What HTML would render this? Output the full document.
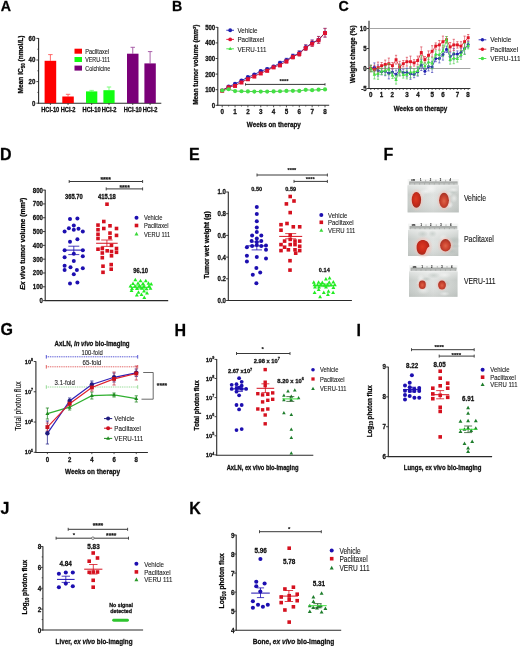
<!DOCTYPE html>
<html><head><meta charset="utf-8"><title>Figure</title>
<style>
html,body{margin:0;padding:0;background:#fff;}
body{width:520px;height:646px;overflow:hidden;}
svg{display:block;}
text{font-family:'Liberation Sans', Arial, Helvetica, sans-serif;font-weight:bold;stroke:#111;stroke-width:0.28px;stroke-linejoin:round;}
</style></head><body>
<svg width="520" height="646" viewBox="0 0 520 646">
<rect width="520" height="646" fill="#fff"/>
<text x="0.7" y="11.3" font-size="14.2">A</text>
<line x1="38.6" y1="38.1" x2="38.6" y2="103.7" stroke="#2a2a2a" stroke-width="1.1"/>
<line x1="36.4" y1="38.4" x2="38.6" y2="38.4" stroke="#2a2a2a" stroke-width="0.9"/>
<line x1="36.4" y1="60" x2="38.6" y2="60" stroke="#2a2a2a" stroke-width="0.9"/>
<line x1="36.4" y1="81.6" x2="38.6" y2="81.6" stroke="#2a2a2a" stroke-width="0.9"/>
<line x1="36.4" y1="103.2" x2="38.6" y2="103.2" stroke="#2a2a2a" stroke-width="0.9"/>
<line x1="37.4" y1="49.2" x2="38.6" y2="49.2" stroke="#2a2a2a" stroke-width="0.8"/>
<line x1="37.4" y1="70.8" x2="38.6" y2="70.8" stroke="#2a2a2a" stroke-width="0.8"/>
<line x1="37.4" y1="92.4" x2="38.6" y2="92.4" stroke="#2a2a2a" stroke-width="0.8"/>
<text x="35.3" y="40.85" font-size="6.83" text-anchor="end" fill="#111" textLength="6.78" lengthAdjust="spacingAndGlyphs">60</text>
<text x="35.3" y="62.45" font-size="6.83" text-anchor="end" fill="#111" textLength="6.78" lengthAdjust="spacingAndGlyphs">40</text>
<text x="35.3" y="84.05" font-size="6.83" text-anchor="end" fill="#111" textLength="6.78" lengthAdjust="spacingAndGlyphs">20</text>
<text x="35.3" y="105.65" font-size="6.83" text-anchor="end" fill="#111" textLength="3.39" lengthAdjust="spacingAndGlyphs">0</text>
<line x1="38.1" y1="103.2" x2="161.3" y2="103.2" stroke="#2a2a2a" stroke-width="1.1"/>
<text transform="translate(23.39 64.5) rotate(-90)" x="0" y="0" font-size="6.96" text-anchor="middle" textLength="58" lengthAdjust="spacingAndGlyphs">Mean IC<tspan font-size="4.7" dy="1.8">50</tspan><tspan dy="-1.8"> (nmol/L)</tspan></text>
<line x1="50.4" y1="54.6" x2="50.4" y2="60.8" stroke="#ff5a5a" stroke-width="0.9"/>
<line x1="48.2" y1="54.6" x2="52.6" y2="54.6" stroke="#ff5a5a" stroke-width="0.9"/>
<rect x="44.6" y="60.8" width="11.6" height="42.4" fill="#fe0000"/>
<line x1="50.4" y1="103.2" x2="50.4" y2="105" stroke="#2a2a2a" stroke-width="0.8"/>
<line x1="68.05" y1="94.3" x2="68.05" y2="96.5" stroke="#ff5a5a" stroke-width="0.9"/>
<line x1="65.85" y1="94.3" x2="70.25" y2="94.3" stroke="#ff5a5a" stroke-width="0.9"/>
<rect x="62.3" y="96.5" width="11.5" height="6.7" fill="#fe0000"/>
<line x1="68.05" y1="103.2" x2="68.05" y2="105" stroke="#2a2a2a" stroke-width="0.8"/>
<line x1="91.65" y1="90.4" x2="91.65" y2="91.4" stroke="#70ff70" stroke-width="0.9"/>
<line x1="89.45" y1="90.4" x2="93.85" y2="90.4" stroke="#70ff70" stroke-width="0.9"/>
<rect x="86" y="91.4" width="11.3" height="11.8" fill="#12fd12"/>
<line x1="91.65" y1="103.2" x2="91.65" y2="105" stroke="#2a2a2a" stroke-width="0.8"/>
<line x1="109" y1="87" x2="109" y2="90.2" stroke="#70ff70" stroke-width="0.9"/>
<line x1="106.8" y1="87" x2="111.2" y2="87" stroke="#70ff70" stroke-width="0.9"/>
<rect x="103.4" y="90.2" width="11.2" height="13" fill="#12fd12"/>
<line x1="109" y1="103.2" x2="109" y2="105" stroke="#2a2a2a" stroke-width="0.8"/>
<line x1="132.75" y1="47.3" x2="132.75" y2="53.7" stroke="#a050a0" stroke-width="0.9"/>
<line x1="130.55" y1="47.3" x2="134.95" y2="47.3" stroke="#a050a0" stroke-width="0.9"/>
<rect x="127" y="53.7" width="11.5" height="49.5" fill="#7a0078"/>
<line x1="132.75" y1="103.2" x2="132.75" y2="105" stroke="#2a2a2a" stroke-width="0.8"/>
<line x1="150.1" y1="51.6" x2="150.1" y2="63.4" stroke="#a050a0" stroke-width="0.9"/>
<line x1="147.9" y1="51.6" x2="152.3" y2="51.6" stroke="#a050a0" stroke-width="0.9"/>
<rect x="144.4" y="63.4" width="11.4" height="39.8" fill="#7a0078"/>
<line x1="150.1" y1="103.2" x2="150.1" y2="105" stroke="#2a2a2a" stroke-width="0.8"/>
<text x="50.2" y="112.29" font-size="6.38" text-anchor="middle" fill="#111" textLength="18.05" lengthAdjust="spacingAndGlyphs">HCI-10</text>
<text x="68.1" y="112.29" font-size="6.38" text-anchor="middle" fill="#111" textLength="14.88" lengthAdjust="spacingAndGlyphs">HCI-2</text>
<text x="91.6" y="112.29" font-size="6.38" text-anchor="middle" fill="#111" textLength="18.05" lengthAdjust="spacingAndGlyphs">HCI-10</text>
<text x="109.1" y="112.29" font-size="6.38" text-anchor="middle" fill="#111" textLength="14.88" lengthAdjust="spacingAndGlyphs">HCI-2</text>
<text x="132.7" y="112.29" font-size="6.38" text-anchor="middle" fill="#111" textLength="18.05" lengthAdjust="spacingAndGlyphs">HCI-10</text>
<text x="150.1" y="112.29" font-size="6.38" text-anchor="middle" fill="#111" textLength="14.88" lengthAdjust="spacingAndGlyphs">HCI-2</text>
<rect x="74.5" y="48.7" width="7.5" height="5" fill="#fe0000"/>
<text x="85.2" y="53.71" font-size="7.01" style="font-weight:normal;stroke-width:0.1px;" fill="#1a1a1a" textLength="24" lengthAdjust="spacingAndGlyphs">Paclitaxel</text>
<rect x="74.5" y="57" width="7.5" height="5" fill="#12fd12"/>
<text x="85.2" y="61.89" font-size="6.67" style="font-weight:normal;stroke-width:0.1px;" fill="#1a1a1a" textLength="24.7" lengthAdjust="spacingAndGlyphs">VERU-111</text>
<rect x="74.5" y="65.6" width="7.5" height="5" fill="#7a0078"/>
<text x="85.2" y="70.54" font-size="6.83" style="font-weight:normal;stroke-width:0.1px;" fill="#1a1a1a" textLength="25.2" lengthAdjust="spacingAndGlyphs">Colchicine</text>
<text x="172" y="11.4" font-size="14.2">B</text>
<line x1="217.8" y1="27" x2="217.8" y2="105.8" stroke="#2a2a2a" stroke-width="1.1"/>
<line x1="215.6" y1="27.3" x2="217.8" y2="27.3" stroke="#2a2a2a" stroke-width="0.9"/>
<line x1="215.6" y1="42.9" x2="217.8" y2="42.9" stroke="#2a2a2a" stroke-width="0.9"/>
<line x1="215.6" y1="58.5" x2="217.8" y2="58.5" stroke="#2a2a2a" stroke-width="0.9"/>
<line x1="215.6" y1="74.1" x2="217.8" y2="74.1" stroke="#2a2a2a" stroke-width="0.9"/>
<line x1="215.6" y1="89.7" x2="217.8" y2="89.7" stroke="#2a2a2a" stroke-width="0.9"/>
<line x1="215.6" y1="105.3" x2="217.8" y2="105.3" stroke="#2a2a2a" stroke-width="0.9"/>
<text x="215.2" y="29.71" font-size="6.72" text-anchor="end" fill="#111" textLength="10.01" lengthAdjust="spacingAndGlyphs">500</text>
<text x="215.2" y="45.31" font-size="6.72" text-anchor="end" fill="#111" textLength="10.01" lengthAdjust="spacingAndGlyphs">400</text>
<text x="215.2" y="60.91" font-size="6.72" text-anchor="end" fill="#111" textLength="10.01" lengthAdjust="spacingAndGlyphs">300</text>
<text x="215.2" y="76.51" font-size="6.72" text-anchor="end" fill="#111" textLength="10.01" lengthAdjust="spacingAndGlyphs">200</text>
<text x="215.2" y="92.11" font-size="6.72" text-anchor="end" fill="#111" textLength="10.01" lengthAdjust="spacingAndGlyphs">100</text>
<text x="215.2" y="107.71" font-size="6.72" text-anchor="end" fill="#111" textLength="3.34" lengthAdjust="spacingAndGlyphs">0</text>
<line x1="217.3" y1="105.3" x2="329.2" y2="105.3" stroke="#2a2a2a" stroke-width="1.1"/>
<line x1="222.2" y1="105.3" x2="222.2" y2="107.3" stroke="#2a2a2a" stroke-width="0.8"/>
<text x="222.2" y="113.93" font-size="7.06" text-anchor="middle" fill="#111" textLength="3.5" lengthAdjust="spacingAndGlyphs">0</text>
<line x1="235.05" y1="105.3" x2="235.05" y2="107.3" stroke="#2a2a2a" stroke-width="0.8"/>
<text x="235.05" y="113.93" font-size="7.06" text-anchor="middle" fill="#111" textLength="3.5" lengthAdjust="spacingAndGlyphs">1</text>
<line x1="247.9" y1="105.3" x2="247.9" y2="107.3" stroke="#2a2a2a" stroke-width="0.8"/>
<text x="247.9" y="113.93" font-size="7.06" text-anchor="middle" fill="#111" textLength="3.5" lengthAdjust="spacingAndGlyphs">2</text>
<line x1="260.75" y1="105.3" x2="260.75" y2="107.3" stroke="#2a2a2a" stroke-width="0.8"/>
<text x="260.75" y="113.93" font-size="7.06" text-anchor="middle" fill="#111" textLength="3.5" lengthAdjust="spacingAndGlyphs">3</text>
<line x1="273.6" y1="105.3" x2="273.6" y2="107.3" stroke="#2a2a2a" stroke-width="0.8"/>
<text x="273.6" y="113.93" font-size="7.06" text-anchor="middle" fill="#111" textLength="3.5" lengthAdjust="spacingAndGlyphs">4</text>
<line x1="286.45" y1="105.3" x2="286.45" y2="107.3" stroke="#2a2a2a" stroke-width="0.8"/>
<text x="286.45" y="113.93" font-size="7.06" text-anchor="middle" fill="#111" textLength="3.5" lengthAdjust="spacingAndGlyphs">5</text>
<line x1="299.3" y1="105.3" x2="299.3" y2="107.3" stroke="#2a2a2a" stroke-width="0.8"/>
<text x="299.3" y="113.93" font-size="7.06" text-anchor="middle" fill="#111" textLength="3.5" lengthAdjust="spacingAndGlyphs">6</text>
<line x1="312.15" y1="105.3" x2="312.15" y2="107.3" stroke="#2a2a2a" stroke-width="0.8"/>
<text x="312.15" y="113.93" font-size="7.06" text-anchor="middle" fill="#111" textLength="3.5" lengthAdjust="spacingAndGlyphs">7</text>
<line x1="325" y1="105.3" x2="325" y2="107.3" stroke="#2a2a2a" stroke-width="0.8"/>
<text x="325" y="113.93" font-size="7.06" text-anchor="middle" fill="#111" textLength="3.5" lengthAdjust="spacingAndGlyphs">8</text>
<line x1="228.62" y1="105.3" x2="228.62" y2="106.5" stroke="#2a2a2a" stroke-width="0.7"/>
<line x1="241.47" y1="105.3" x2="241.47" y2="106.5" stroke="#2a2a2a" stroke-width="0.7"/>
<line x1="254.32" y1="105.3" x2="254.32" y2="106.5" stroke="#2a2a2a" stroke-width="0.7"/>
<line x1="267.18" y1="105.3" x2="267.18" y2="106.5" stroke="#2a2a2a" stroke-width="0.7"/>
<line x1="280.02" y1="105.3" x2="280.02" y2="106.5" stroke="#2a2a2a" stroke-width="0.7"/>
<line x1="292.88" y1="105.3" x2="292.88" y2="106.5" stroke="#2a2a2a" stroke-width="0.7"/>
<line x1="305.72" y1="105.3" x2="305.72" y2="106.5" stroke="#2a2a2a" stroke-width="0.7"/>
<line x1="318.57" y1="105.3" x2="318.57" y2="106.5" stroke="#2a2a2a" stroke-width="0.7"/>
<text x="273.8" y="127.39" font-size="6.96" text-anchor="middle" fill="#111" textLength="54" lengthAdjust="spacingAndGlyphs">Weeks on therapy</text>
<text transform="translate(198.08 64.75) rotate(-90)" x="0" y="0" font-size="6.92" text-anchor="middle" textLength="80.1" lengthAdjust="spacingAndGlyphs">Mean tumor volume (<tspan font-style="italic">mm<tspan font-size="4.2" dy="-2">3</tspan></tspan><tspan dy="2">)</tspan></text>
<polyline points="222.2,90.48 228.62,86.58 235.05,83.93 241.47,80.65 247.9,77.22 254.32,74.57 260.75,71.14 267.18,69.11 273.6,66.61 280.02,62.87 286.45,60.06 292.88,56.16 299.3,53.04 305.72,47.42 312.15,42.9 318.57,39.78 325,32.76" fill="none" stroke="#2222aa" stroke-width="0.9"/>
<polyline points="222.2,90.48 228.62,87.05 235.05,85.64 241.47,82.21 247.9,78.94 254.32,76.28 260.75,73.16 267.18,70.51 273.6,67.08 280.02,65.05 286.45,61.15 292.88,56.78 299.3,53.66 305.72,47.74 312.15,43.37 318.57,39.94 325,32.76" fill="none" stroke="#b01030" stroke-width="0.9"/>
<polyline points="222.2,90.48 228.62,89.23 235.05,91.1 241.47,91.26 247.9,91.42 254.32,91.57 260.75,91.57 267.18,91.57 273.6,91.42 280.02,91.26 286.45,90.95 292.88,90.79 299.3,90.95 305.72,89.86 312.15,90.17 318.57,89.7 325,89.39" fill="none" stroke="#40c040" stroke-width="0.9"/>
<line x1="228.62" y1="85.96" x2="228.62" y2="87.2" stroke="#7070d0" stroke-width="0.7"/>
<line x1="227.03" y1="85.96" x2="230.22" y2="85.96" stroke="#7070d0" stroke-width="0.7"/>
<line x1="227.03" y1="87.2" x2="230.22" y2="87.2" stroke="#7070d0" stroke-width="0.7"/>
<line x1="228.62" y1="86.42" x2="228.62" y2="87.67" stroke="#c02040" stroke-width="0.7"/>
<line x1="227.03" y1="86.42" x2="230.22" y2="86.42" stroke="#c02040" stroke-width="0.7"/>
<line x1="227.03" y1="87.67" x2="230.22" y2="87.67" stroke="#c02040" stroke-width="0.7"/>
<line x1="235.05" y1="83.15" x2="235.05" y2="84.71" stroke="#7070d0" stroke-width="0.7"/>
<line x1="233.45" y1="83.15" x2="236.65" y2="83.15" stroke="#7070d0" stroke-width="0.7"/>
<line x1="233.45" y1="84.71" x2="236.65" y2="84.71" stroke="#7070d0" stroke-width="0.7"/>
<line x1="235.05" y1="84.86" x2="235.05" y2="86.42" stroke="#c02040" stroke-width="0.7"/>
<line x1="233.45" y1="84.86" x2="236.65" y2="84.86" stroke="#c02040" stroke-width="0.7"/>
<line x1="233.45" y1="86.42" x2="236.65" y2="86.42" stroke="#c02040" stroke-width="0.7"/>
<line x1="241.47" y1="79.87" x2="241.47" y2="81.43" stroke="#7070d0" stroke-width="0.7"/>
<line x1="239.88" y1="79.87" x2="243.07" y2="79.87" stroke="#7070d0" stroke-width="0.7"/>
<line x1="239.88" y1="81.43" x2="243.07" y2="81.43" stroke="#7070d0" stroke-width="0.7"/>
<line x1="241.47" y1="81.43" x2="241.47" y2="82.99" stroke="#c02040" stroke-width="0.7"/>
<line x1="239.88" y1="81.43" x2="243.07" y2="81.43" stroke="#c02040" stroke-width="0.7"/>
<line x1="239.88" y1="82.99" x2="243.07" y2="82.99" stroke="#c02040" stroke-width="0.7"/>
<line x1="247.9" y1="76.28" x2="247.9" y2="78.16" stroke="#7070d0" stroke-width="0.7"/>
<line x1="246.3" y1="76.28" x2="249.5" y2="76.28" stroke="#7070d0" stroke-width="0.7"/>
<line x1="246.3" y1="78.16" x2="249.5" y2="78.16" stroke="#7070d0" stroke-width="0.7"/>
<line x1="247.9" y1="78" x2="247.9" y2="79.87" stroke="#c02040" stroke-width="0.7"/>
<line x1="246.3" y1="78" x2="249.5" y2="78" stroke="#c02040" stroke-width="0.7"/>
<line x1="246.3" y1="79.87" x2="249.5" y2="79.87" stroke="#c02040" stroke-width="0.7"/>
<line x1="254.32" y1="73.63" x2="254.32" y2="75.5" stroke="#7070d0" stroke-width="0.7"/>
<line x1="252.72" y1="73.63" x2="255.92" y2="73.63" stroke="#7070d0" stroke-width="0.7"/>
<line x1="252.72" y1="75.5" x2="255.92" y2="75.5" stroke="#7070d0" stroke-width="0.7"/>
<line x1="254.32" y1="75.35" x2="254.32" y2="77.22" stroke="#c02040" stroke-width="0.7"/>
<line x1="252.72" y1="75.35" x2="255.92" y2="75.35" stroke="#c02040" stroke-width="0.7"/>
<line x1="252.72" y1="77.22" x2="255.92" y2="77.22" stroke="#c02040" stroke-width="0.7"/>
<line x1="260.75" y1="70.04" x2="260.75" y2="72.23" stroke="#7070d0" stroke-width="0.7"/>
<line x1="259.15" y1="70.04" x2="262.35" y2="70.04" stroke="#7070d0" stroke-width="0.7"/>
<line x1="259.15" y1="72.23" x2="262.35" y2="72.23" stroke="#7070d0" stroke-width="0.7"/>
<line x1="260.75" y1="72.07" x2="260.75" y2="74.26" stroke="#c02040" stroke-width="0.7"/>
<line x1="259.15" y1="72.07" x2="262.35" y2="72.07" stroke="#c02040" stroke-width="0.7"/>
<line x1="259.15" y1="74.26" x2="262.35" y2="74.26" stroke="#c02040" stroke-width="0.7"/>
<line x1="267.18" y1="67.86" x2="267.18" y2="70.36" stroke="#7070d0" stroke-width="0.7"/>
<line x1="265.57" y1="67.86" x2="268.78" y2="67.86" stroke="#7070d0" stroke-width="0.7"/>
<line x1="265.57" y1="70.36" x2="268.78" y2="70.36" stroke="#7070d0" stroke-width="0.7"/>
<line x1="267.18" y1="69.26" x2="267.18" y2="71.76" stroke="#c02040" stroke-width="0.7"/>
<line x1="265.57" y1="69.26" x2="268.78" y2="69.26" stroke="#c02040" stroke-width="0.7"/>
<line x1="265.57" y1="71.76" x2="268.78" y2="71.76" stroke="#c02040" stroke-width="0.7"/>
<line x1="273.6" y1="65.21" x2="273.6" y2="68.02" stroke="#7070d0" stroke-width="0.7"/>
<line x1="272" y1="65.21" x2="275.2" y2="65.21" stroke="#7070d0" stroke-width="0.7"/>
<line x1="272" y1="68.02" x2="275.2" y2="68.02" stroke="#7070d0" stroke-width="0.7"/>
<line x1="273.6" y1="65.68" x2="273.6" y2="68.48" stroke="#c02040" stroke-width="0.7"/>
<line x1="272" y1="65.68" x2="275.2" y2="65.68" stroke="#c02040" stroke-width="0.7"/>
<line x1="272" y1="68.48" x2="275.2" y2="68.48" stroke="#c02040" stroke-width="0.7"/>
<line x1="280.02" y1="61.31" x2="280.02" y2="64.43" stroke="#7070d0" stroke-width="0.7"/>
<line x1="278.42" y1="61.31" x2="281.62" y2="61.31" stroke="#7070d0" stroke-width="0.7"/>
<line x1="278.42" y1="64.43" x2="281.62" y2="64.43" stroke="#7070d0" stroke-width="0.7"/>
<line x1="280.02" y1="63.49" x2="280.02" y2="66.61" stroke="#c02040" stroke-width="0.7"/>
<line x1="278.42" y1="63.49" x2="281.62" y2="63.49" stroke="#c02040" stroke-width="0.7"/>
<line x1="278.42" y1="66.61" x2="281.62" y2="66.61" stroke="#c02040" stroke-width="0.7"/>
<line x1="286.45" y1="58.19" x2="286.45" y2="61.93" stroke="#7070d0" stroke-width="0.7"/>
<line x1="284.85" y1="58.19" x2="288.05" y2="58.19" stroke="#7070d0" stroke-width="0.7"/>
<line x1="284.85" y1="61.93" x2="288.05" y2="61.93" stroke="#7070d0" stroke-width="0.7"/>
<line x1="286.45" y1="59.28" x2="286.45" y2="63.02" stroke="#c02040" stroke-width="0.7"/>
<line x1="284.85" y1="59.28" x2="288.05" y2="59.28" stroke="#c02040" stroke-width="0.7"/>
<line x1="284.85" y1="63.02" x2="288.05" y2="63.02" stroke="#c02040" stroke-width="0.7"/>
<line x1="292.88" y1="53.98" x2="292.88" y2="58.34" stroke="#7070d0" stroke-width="0.7"/>
<line x1="291.27" y1="53.98" x2="294.48" y2="53.98" stroke="#7070d0" stroke-width="0.7"/>
<line x1="291.27" y1="58.34" x2="294.48" y2="58.34" stroke="#7070d0" stroke-width="0.7"/>
<line x1="292.88" y1="54.6" x2="292.88" y2="58.97" stroke="#c02040" stroke-width="0.7"/>
<line x1="291.27" y1="54.6" x2="294.48" y2="54.6" stroke="#c02040" stroke-width="0.7"/>
<line x1="291.27" y1="58.97" x2="294.48" y2="58.97" stroke="#c02040" stroke-width="0.7"/>
<line x1="299.3" y1="50.54" x2="299.3" y2="55.54" stroke="#7070d0" stroke-width="0.7"/>
<line x1="297.7" y1="50.54" x2="300.9" y2="50.54" stroke="#7070d0" stroke-width="0.7"/>
<line x1="297.7" y1="55.54" x2="300.9" y2="55.54" stroke="#7070d0" stroke-width="0.7"/>
<line x1="299.3" y1="51.17" x2="299.3" y2="56.16" stroke="#c02040" stroke-width="0.7"/>
<line x1="297.7" y1="51.17" x2="300.9" y2="51.17" stroke="#c02040" stroke-width="0.7"/>
<line x1="297.7" y1="56.16" x2="300.9" y2="56.16" stroke="#c02040" stroke-width="0.7"/>
<line x1="305.72" y1="44.62" x2="305.72" y2="50.23" stroke="#7070d0" stroke-width="0.7"/>
<line x1="304.12" y1="44.62" x2="307.32" y2="44.62" stroke="#7070d0" stroke-width="0.7"/>
<line x1="304.12" y1="50.23" x2="307.32" y2="50.23" stroke="#7070d0" stroke-width="0.7"/>
<line x1="305.72" y1="44.93" x2="305.72" y2="50.54" stroke="#c02040" stroke-width="0.7"/>
<line x1="304.12" y1="44.93" x2="307.32" y2="44.93" stroke="#c02040" stroke-width="0.7"/>
<line x1="304.12" y1="50.54" x2="307.32" y2="50.54" stroke="#c02040" stroke-width="0.7"/>
<line x1="312.15" y1="39.78" x2="312.15" y2="46.02" stroke="#7070d0" stroke-width="0.7"/>
<line x1="310.55" y1="39.78" x2="313.75" y2="39.78" stroke="#7070d0" stroke-width="0.7"/>
<line x1="310.55" y1="46.02" x2="313.75" y2="46.02" stroke="#7070d0" stroke-width="0.7"/>
<line x1="312.15" y1="40.25" x2="312.15" y2="46.49" stroke="#c02040" stroke-width="0.7"/>
<line x1="310.55" y1="40.25" x2="313.75" y2="40.25" stroke="#c02040" stroke-width="0.7"/>
<line x1="310.55" y1="46.49" x2="313.75" y2="46.49" stroke="#c02040" stroke-width="0.7"/>
<line x1="318.57" y1="36.35" x2="318.57" y2="43.21" stroke="#7070d0" stroke-width="0.7"/>
<line x1="316.97" y1="36.35" x2="320.18" y2="36.35" stroke="#7070d0" stroke-width="0.7"/>
<line x1="316.97" y1="43.21" x2="320.18" y2="43.21" stroke="#7070d0" stroke-width="0.7"/>
<line x1="318.57" y1="36.5" x2="318.57" y2="43.37" stroke="#c02040" stroke-width="0.7"/>
<line x1="316.97" y1="36.5" x2="320.18" y2="36.5" stroke="#c02040" stroke-width="0.7"/>
<line x1="316.97" y1="43.37" x2="320.18" y2="43.37" stroke="#c02040" stroke-width="0.7"/>
<line x1="325" y1="28.39" x2="325" y2="37.13" stroke="#7070d0" stroke-width="0.7"/>
<line x1="323.4" y1="28.39" x2="326.6" y2="28.39" stroke="#7070d0" stroke-width="0.7"/>
<line x1="323.4" y1="37.13" x2="326.6" y2="37.13" stroke="#7070d0" stroke-width="0.7"/>
<line x1="325" y1="28.39" x2="325" y2="37.13" stroke="#c02040" stroke-width="0.7"/>
<line x1="323.4" y1="28.39" x2="326.6" y2="28.39" stroke="#c02040" stroke-width="0.7"/>
<line x1="323.4" y1="37.13" x2="326.6" y2="37.13" stroke="#c02040" stroke-width="0.7"/>
<circle cx="222.2" cy="90.48" r="2.1" fill="#2020b0"/>
<circle cx="228.62" cy="86.58" r="2.1" fill="#2020b0"/>
<circle cx="235.05" cy="83.93" r="2.1" fill="#2020b0"/>
<circle cx="241.47" cy="80.65" r="2.1" fill="#2020b0"/>
<circle cx="247.9" cy="77.22" r="2.1" fill="#2020b0"/>
<circle cx="254.32" cy="74.57" r="2.1" fill="#2020b0"/>
<circle cx="260.75" cy="71.14" r="2.1" fill="#2020b0"/>
<circle cx="267.18" cy="69.11" r="2.1" fill="#2020b0"/>
<circle cx="273.6" cy="66.61" r="2.1" fill="#2020b0"/>
<circle cx="280.02" cy="62.87" r="2.1" fill="#2020b0"/>
<circle cx="286.45" cy="60.06" r="2.1" fill="#2020b0"/>
<circle cx="292.88" cy="56.16" r="2.1" fill="#2020b0"/>
<circle cx="299.3" cy="53.04" r="2.1" fill="#2020b0"/>
<circle cx="305.72" cy="47.42" r="2.1" fill="#2020b0"/>
<circle cx="312.15" cy="42.9" r="2.1" fill="#2020b0"/>
<circle cx="318.57" cy="39.78" r="2.1" fill="#2020b0"/>
<circle cx="325" cy="32.76" r="2.1" fill="#2020b0"/>
<rect x="220.2" y="88.78" width="4" height="4" fill="#e01030"/>
<rect x="226.62" y="85.35" width="4" height="4" fill="#e01030"/>
<rect x="233.05" y="83.94" width="4" height="4" fill="#e01030"/>
<rect x="239.47" y="80.51" width="4" height="4" fill="#e01030"/>
<rect x="245.9" y="77.24" width="4" height="4" fill="#e01030"/>
<rect x="252.32" y="74.58" width="4" height="4" fill="#e01030"/>
<rect x="258.75" y="71.46" width="4" height="4" fill="#e01030"/>
<rect x="265.18" y="68.81" width="4" height="4" fill="#e01030"/>
<rect x="271.6" y="65.38" width="4" height="4" fill="#e01030"/>
<rect x="278.02" y="63.35" width="4" height="4" fill="#e01030"/>
<rect x="284.45" y="59.45" width="4" height="4" fill="#e01030"/>
<rect x="290.88" y="55.08" width="4" height="4" fill="#e01030"/>
<rect x="297.3" y="51.96" width="4" height="4" fill="#e01030"/>
<rect x="303.72" y="46.04" width="4" height="4" fill="#e01030"/>
<rect x="310.15" y="41.67" width="4" height="4" fill="#e01030"/>
<rect x="316.57" y="38.24" width="4" height="4" fill="#e01030"/>
<rect x="323" y="31.06" width="4" height="4" fill="#e01030"/>
<circle cx="222.2" cy="90.48" r="2.1" fill="#44e044"/>
<circle cx="228.62" cy="89.23" r="2.1" fill="#44e044"/>
<circle cx="235.05" cy="91.1" r="2.1" fill="#44e044"/>
<circle cx="241.47" cy="91.26" r="2.1" fill="#44e044"/>
<circle cx="247.9" cy="91.42" r="2.1" fill="#44e044"/>
<circle cx="254.32" cy="91.57" r="2.1" fill="#44e044"/>
<circle cx="260.75" cy="91.57" r="2.1" fill="#44e044"/>
<circle cx="267.18" cy="91.57" r="2.1" fill="#44e044"/>
<circle cx="273.6" cy="91.42" r="2.1" fill="#44e044"/>
<circle cx="280.02" cy="91.26" r="2.1" fill="#44e044"/>
<circle cx="286.45" cy="90.95" r="2.1" fill="#44e044"/>
<circle cx="292.88" cy="90.79" r="2.1" fill="#44e044"/>
<circle cx="299.3" cy="90.95" r="2.1" fill="#44e044"/>
<circle cx="305.72" cy="89.86" r="2.1" fill="#44e044"/>
<circle cx="312.15" cy="90.17" r="2.1" fill="#44e044"/>
<circle cx="318.57" cy="89.7" r="2.1" fill="#44e044"/>
<circle cx="325" cy="89.39" r="2.1" fill="#44e044"/>
<line x1="245.5" y1="84.4" x2="325" y2="84.4" stroke="#383838" stroke-width="1"/>
<line x1="245.5" y1="83.2" x2="245.5" y2="85.6" stroke="#383838" stroke-width="0.9"/>
<line x1="325" y1="83.2" x2="325" y2="85.6" stroke="#383838" stroke-width="0.9"/>
<text x="284" y="83.12" font-size="5.85" text-anchor="middle" fill="#111" style="stroke-width:0.18px">****</text>
<line x1="226.3" y1="30.25" x2="234" y2="30.25" stroke="#2020b0" stroke-width="0.9"/>
<circle cx="230.2" cy="30.25" r="1.9" fill="#2020b0"/>
<text x="237.4" y="33.05" font-size="7.83" style="font-weight:normal;stroke-width:0.1px;" fill="#1a1a1a" textLength="20.2" lengthAdjust="spacingAndGlyphs">Vehicle</text>
<line x1="226.3" y1="39.4" x2="234" y2="39.4" stroke="#e01030" stroke-width="0.9"/>
<circle cx="230.2" cy="39.4" r="1.9" fill="#e01030"/>
<text x="237.4" y="42.21" font-size="7.86" style="font-weight:normal;stroke-width:0.1px;" fill="#1a1a1a" textLength="26.9" lengthAdjust="spacingAndGlyphs">Paclitaxel</text>
<line x1="226.3" y1="48.8" x2="234" y2="48.8" stroke="#44e044" stroke-width="0.9"/>
<path d="M230.2 46.86L232 50.1L228.4 50.1Z" fill="#44e044"/>
<text x="237.4" y="51.6" font-size="7.83" style="font-weight:normal;stroke-width:0.1px;" fill="#1a1a1a" textLength="29" lengthAdjust="spacingAndGlyphs">VERU-111</text>
<text x="338.6" y="11.3" font-size="14.2">C</text>
<line x1="369" y1="20.7" x2="369" y2="89" stroke="#2a2a2a" stroke-width="1.1"/>
<line x1="366.8" y1="28.5" x2="369" y2="28.5" stroke="#2a2a2a" stroke-width="0.9"/>
<line x1="366.8" y1="48.5" x2="369" y2="48.5" stroke="#2a2a2a" stroke-width="0.9"/>
<line x1="366.8" y1="68.5" x2="369" y2="68.5" stroke="#2a2a2a" stroke-width="0.9"/>
<line x1="366.8" y1="88.5" x2="369" y2="88.5" stroke="#2a2a2a" stroke-width="0.9"/>
<text x="366.6" y="30.95" font-size="6.83" text-anchor="end" fill="#111" textLength="6.78" lengthAdjust="spacingAndGlyphs">10</text>
<text x="366.6" y="50.95" font-size="6.83" text-anchor="end" fill="#111" textLength="3.39" lengthAdjust="spacingAndGlyphs">5</text>
<text x="366.6" y="70.95" font-size="6.83" text-anchor="end" fill="#111" textLength="3.39" lengthAdjust="spacingAndGlyphs">0</text>
<text x="366.6" y="90.95" font-size="6.83" text-anchor="end" fill="#111" textLength="5.42" lengthAdjust="spacingAndGlyphs">-5</text>
<line x1="369" y1="28.5" x2="470.4" y2="28.5" stroke="#9a9a9a" stroke-width="0.9"/>
<line x1="369" y1="68.5" x2="470.4" y2="68.5" stroke="#9a9a9a" stroke-width="0.9"/>
<line x1="368.5" y1="88.5" x2="470.4" y2="88.5" stroke="#2a2a2a" stroke-width="1.1"/>
<line x1="370.8" y1="88.5" x2="370.8" y2="90" stroke="#2a2a2a" stroke-width="0.7"/>
<line x1="374.41" y1="88.5" x2="374.41" y2="90" stroke="#2a2a2a" stroke-width="0.7"/>
<line x1="378.01" y1="88.5" x2="378.01" y2="90" stroke="#2a2a2a" stroke-width="0.7"/>
<line x1="381.62" y1="88.5" x2="381.62" y2="90" stroke="#2a2a2a" stroke-width="0.7"/>
<line x1="385.23" y1="88.5" x2="385.23" y2="90" stroke="#2a2a2a" stroke-width="0.7"/>
<line x1="388.84" y1="88.5" x2="388.84" y2="90" stroke="#2a2a2a" stroke-width="0.7"/>
<line x1="392.44" y1="88.5" x2="392.44" y2="90" stroke="#2a2a2a" stroke-width="0.7"/>
<line x1="396.05" y1="88.5" x2="396.05" y2="90" stroke="#2a2a2a" stroke-width="0.7"/>
<line x1="399.66" y1="88.5" x2="399.66" y2="90" stroke="#2a2a2a" stroke-width="0.7"/>
<line x1="403.27" y1="88.5" x2="403.27" y2="90" stroke="#2a2a2a" stroke-width="0.7"/>
<line x1="406.87" y1="88.5" x2="406.87" y2="90" stroke="#2a2a2a" stroke-width="0.7"/>
<line x1="410.48" y1="88.5" x2="410.48" y2="90" stroke="#2a2a2a" stroke-width="0.7"/>
<line x1="414.09" y1="88.5" x2="414.09" y2="90" stroke="#2a2a2a" stroke-width="0.7"/>
<line x1="417.7" y1="88.5" x2="417.7" y2="90" stroke="#2a2a2a" stroke-width="0.7"/>
<line x1="421.3" y1="88.5" x2="421.3" y2="90" stroke="#2a2a2a" stroke-width="0.7"/>
<line x1="424.91" y1="88.5" x2="424.91" y2="90" stroke="#2a2a2a" stroke-width="0.7"/>
<line x1="428.52" y1="88.5" x2="428.52" y2="90" stroke="#2a2a2a" stroke-width="0.7"/>
<line x1="432.13" y1="88.5" x2="432.13" y2="90" stroke="#2a2a2a" stroke-width="0.7"/>
<line x1="435.73" y1="88.5" x2="435.73" y2="90" stroke="#2a2a2a" stroke-width="0.7"/>
<line x1="439.34" y1="88.5" x2="439.34" y2="90" stroke="#2a2a2a" stroke-width="0.7"/>
<line x1="442.95" y1="88.5" x2="442.95" y2="90" stroke="#2a2a2a" stroke-width="0.7"/>
<line x1="446.56" y1="88.5" x2="446.56" y2="90" stroke="#2a2a2a" stroke-width="0.7"/>
<line x1="450.16" y1="88.5" x2="450.16" y2="90" stroke="#2a2a2a" stroke-width="0.7"/>
<line x1="453.77" y1="88.5" x2="453.77" y2="90" stroke="#2a2a2a" stroke-width="0.7"/>
<line x1="457.38" y1="88.5" x2="457.38" y2="90" stroke="#2a2a2a" stroke-width="0.7"/>
<line x1="460.99" y1="88.5" x2="460.99" y2="90" stroke="#2a2a2a" stroke-width="0.7"/>
<line x1="464.59" y1="88.5" x2="464.59" y2="90" stroke="#2a2a2a" stroke-width="0.7"/>
<line x1="468.2" y1="88.5" x2="468.2" y2="90" stroke="#2a2a2a" stroke-width="0.7"/>
<text x="370.8" y="97.29" font-size="6.94" text-anchor="middle" fill="#111" textLength="3.45" lengthAdjust="spacingAndGlyphs">0</text>
<text x="381.5" y="97.29" font-size="6.94" text-anchor="middle" fill="#111" textLength="3.45" lengthAdjust="spacingAndGlyphs">1</text>
<text x="392.2" y="97.29" font-size="6.94" text-anchor="middle" fill="#111" textLength="3.45" lengthAdjust="spacingAndGlyphs">2</text>
<text x="407" y="97.29" font-size="6.94" text-anchor="middle" fill="#111" textLength="3.45" lengthAdjust="spacingAndGlyphs">3</text>
<text x="417.9" y="97.29" font-size="6.94" text-anchor="middle" fill="#111" textLength="3.45" lengthAdjust="spacingAndGlyphs">4</text>
<text x="432.2" y="97.29" font-size="6.94" text-anchor="middle" fill="#111" textLength="3.45" lengthAdjust="spacingAndGlyphs">5</text>
<text x="443" y="97.29" font-size="6.94" text-anchor="middle" fill="#111" textLength="3.45" lengthAdjust="spacingAndGlyphs">6</text>
<text x="457.5" y="97.29" font-size="6.94" text-anchor="middle" fill="#111" textLength="3.45" lengthAdjust="spacingAndGlyphs">7</text>
<text x="468" y="97.29" font-size="6.94" text-anchor="middle" fill="#111" textLength="3.45" lengthAdjust="spacingAndGlyphs">8</text>
<text x="420.5" y="110.98" font-size="6.92" text-anchor="middle" fill="#111" textLength="53.7" lengthAdjust="spacingAndGlyphs">Weeks on therapy</text>
<text transform="translate(354.85 54.3) rotate(-90)" x="0" y="0" font-size="7.11" text-anchor="middle" textLength="57.7" lengthAdjust="spacingAndGlyphs">Weight change (%)</text>
<polyline points="370.8,68.5 374.41,67.3 378.01,70.5 381.62,71.7 385.23,71.3 388.84,73.3 392.44,72.1 396.05,74.5 399.66,69.7 403.27,72.5 406.87,72.5 410.48,73.7 414.09,74.5 417.7,71.7 421.3,64.9 424.91,71.3 428.52,66.5 432.13,66.9 435.73,58.5 439.34,58.5 442.95,54.5 446.56,49.3 450.16,56.5 453.77,54.1 457.38,54.1 460.99,52.5 464.59,48.5 468.2,44.5" fill="none" stroke="#2020b0" stroke-width="0.8"/>
<line x1="370.8" y1="65.3" x2="370.8" y2="71.7" stroke="#4848b8" stroke-width="0.6"/>
<line x1="369.7" y1="65.3" x2="371.9" y2="65.3" stroke="#4848b8" stroke-width="0.7"/>
<line x1="369.7" y1="71.7" x2="371.9" y2="71.7" stroke="#4848b8" stroke-width="0.7"/>
<line x1="374.41" y1="62.9" x2="374.41" y2="71.7" stroke="#4848b8" stroke-width="0.6"/>
<line x1="373.31" y1="62.9" x2="375.51" y2="62.9" stroke="#4848b8" stroke-width="0.7"/>
<line x1="373.31" y1="71.7" x2="375.51" y2="71.7" stroke="#4848b8" stroke-width="0.7"/>
<line x1="378.01" y1="64.9" x2="378.01" y2="76.1" stroke="#4848b8" stroke-width="0.6"/>
<line x1="376.91" y1="64.9" x2="379.11" y2="64.9" stroke="#4848b8" stroke-width="0.7"/>
<line x1="376.91" y1="76.1" x2="379.11" y2="76.1" stroke="#4848b8" stroke-width="0.7"/>
<line x1="381.62" y1="68.5" x2="381.62" y2="74.9" stroke="#4848b8" stroke-width="0.6"/>
<line x1="380.52" y1="68.5" x2="382.72" y2="68.5" stroke="#4848b8" stroke-width="0.7"/>
<line x1="380.52" y1="74.9" x2="382.72" y2="74.9" stroke="#4848b8" stroke-width="0.7"/>
<line x1="385.23" y1="66.9" x2="385.23" y2="75.7" stroke="#4848b8" stroke-width="0.6"/>
<line x1="384.13" y1="66.9" x2="386.33" y2="66.9" stroke="#4848b8" stroke-width="0.7"/>
<line x1="384.13" y1="75.7" x2="386.33" y2="75.7" stroke="#4848b8" stroke-width="0.7"/>
<line x1="388.84" y1="67.7" x2="388.84" y2="78.9" stroke="#4848b8" stroke-width="0.6"/>
<line x1="387.74" y1="67.7" x2="389.94" y2="67.7" stroke="#4848b8" stroke-width="0.7"/>
<line x1="387.74" y1="78.9" x2="389.94" y2="78.9" stroke="#4848b8" stroke-width="0.7"/>
<line x1="392.44" y1="68.9" x2="392.44" y2="75.3" stroke="#4848b8" stroke-width="0.6"/>
<line x1="391.34" y1="68.9" x2="393.54" y2="68.9" stroke="#4848b8" stroke-width="0.7"/>
<line x1="391.34" y1="75.3" x2="393.54" y2="75.3" stroke="#4848b8" stroke-width="0.7"/>
<line x1="396.05" y1="70.1" x2="396.05" y2="78.9" stroke="#4848b8" stroke-width="0.6"/>
<line x1="394.95" y1="70.1" x2="397.15" y2="70.1" stroke="#4848b8" stroke-width="0.7"/>
<line x1="394.95" y1="78.9" x2="397.15" y2="78.9" stroke="#4848b8" stroke-width="0.7"/>
<line x1="399.66" y1="64.1" x2="399.66" y2="75.3" stroke="#4848b8" stroke-width="0.6"/>
<line x1="398.56" y1="64.1" x2="400.76" y2="64.1" stroke="#4848b8" stroke-width="0.7"/>
<line x1="398.56" y1="75.3" x2="400.76" y2="75.3" stroke="#4848b8" stroke-width="0.7"/>
<line x1="403.27" y1="69.3" x2="403.27" y2="75.7" stroke="#4848b8" stroke-width="0.6"/>
<line x1="402.17" y1="69.3" x2="404.37" y2="69.3" stroke="#4848b8" stroke-width="0.7"/>
<line x1="402.17" y1="75.7" x2="404.37" y2="75.7" stroke="#4848b8" stroke-width="0.7"/>
<line x1="406.87" y1="68.1" x2="406.87" y2="76.9" stroke="#4848b8" stroke-width="0.6"/>
<line x1="405.77" y1="68.1" x2="407.97" y2="68.1" stroke="#4848b8" stroke-width="0.7"/>
<line x1="405.77" y1="76.9" x2="407.97" y2="76.9" stroke="#4848b8" stroke-width="0.7"/>
<line x1="410.48" y1="68.1" x2="410.48" y2="79.3" stroke="#4848b8" stroke-width="0.6"/>
<line x1="409.38" y1="68.1" x2="411.58" y2="68.1" stroke="#4848b8" stroke-width="0.7"/>
<line x1="409.38" y1="79.3" x2="411.58" y2="79.3" stroke="#4848b8" stroke-width="0.7"/>
<line x1="414.09" y1="71.3" x2="414.09" y2="77.7" stroke="#4848b8" stroke-width="0.6"/>
<line x1="412.99" y1="71.3" x2="415.19" y2="71.3" stroke="#4848b8" stroke-width="0.7"/>
<line x1="412.99" y1="77.7" x2="415.19" y2="77.7" stroke="#4848b8" stroke-width="0.7"/>
<line x1="417.7" y1="67.3" x2="417.7" y2="76.1" stroke="#4848b8" stroke-width="0.6"/>
<line x1="416.6" y1="67.3" x2="418.8" y2="67.3" stroke="#4848b8" stroke-width="0.7"/>
<line x1="416.6" y1="76.1" x2="418.8" y2="76.1" stroke="#4848b8" stroke-width="0.7"/>
<line x1="421.3" y1="59.3" x2="421.3" y2="70.5" stroke="#4848b8" stroke-width="0.6"/>
<line x1="420.2" y1="59.3" x2="422.4" y2="59.3" stroke="#4848b8" stroke-width="0.7"/>
<line x1="420.2" y1="70.5" x2="422.4" y2="70.5" stroke="#4848b8" stroke-width="0.7"/>
<line x1="424.91" y1="68.1" x2="424.91" y2="74.5" stroke="#4848b8" stroke-width="0.6"/>
<line x1="423.81" y1="68.1" x2="426.01" y2="68.1" stroke="#4848b8" stroke-width="0.7"/>
<line x1="423.81" y1="74.5" x2="426.01" y2="74.5" stroke="#4848b8" stroke-width="0.7"/>
<line x1="428.52" y1="62.1" x2="428.52" y2="70.9" stroke="#4848b8" stroke-width="0.6"/>
<line x1="427.42" y1="62.1" x2="429.62" y2="62.1" stroke="#4848b8" stroke-width="0.7"/>
<line x1="427.42" y1="70.9" x2="429.62" y2="70.9" stroke="#4848b8" stroke-width="0.7"/>
<line x1="432.13" y1="61.3" x2="432.13" y2="72.5" stroke="#4848b8" stroke-width="0.6"/>
<line x1="431.03" y1="61.3" x2="433.23" y2="61.3" stroke="#4848b8" stroke-width="0.7"/>
<line x1="431.03" y1="72.5" x2="433.23" y2="72.5" stroke="#4848b8" stroke-width="0.7"/>
<line x1="435.73" y1="55.3" x2="435.73" y2="61.7" stroke="#4848b8" stroke-width="0.6"/>
<line x1="434.63" y1="55.3" x2="436.83" y2="55.3" stroke="#4848b8" stroke-width="0.7"/>
<line x1="434.63" y1="61.7" x2="436.83" y2="61.7" stroke="#4848b8" stroke-width="0.7"/>
<line x1="439.34" y1="54.1" x2="439.34" y2="62.9" stroke="#4848b8" stroke-width="0.6"/>
<line x1="438.24" y1="54.1" x2="440.44" y2="54.1" stroke="#4848b8" stroke-width="0.7"/>
<line x1="438.24" y1="62.9" x2="440.44" y2="62.9" stroke="#4848b8" stroke-width="0.7"/>
<line x1="442.95" y1="48.9" x2="442.95" y2="60.1" stroke="#4848b8" stroke-width="0.6"/>
<line x1="441.85" y1="48.9" x2="444.05" y2="48.9" stroke="#4848b8" stroke-width="0.7"/>
<line x1="441.85" y1="60.1" x2="444.05" y2="60.1" stroke="#4848b8" stroke-width="0.7"/>
<line x1="446.56" y1="46.1" x2="446.56" y2="52.5" stroke="#4848b8" stroke-width="0.6"/>
<line x1="445.46" y1="46.1" x2="447.66" y2="46.1" stroke="#4848b8" stroke-width="0.7"/>
<line x1="445.46" y1="52.5" x2="447.66" y2="52.5" stroke="#4848b8" stroke-width="0.7"/>
<line x1="450.16" y1="52.1" x2="450.16" y2="60.9" stroke="#4848b8" stroke-width="0.6"/>
<line x1="449.06" y1="52.1" x2="451.26" y2="52.1" stroke="#4848b8" stroke-width="0.7"/>
<line x1="449.06" y1="60.9" x2="451.26" y2="60.9" stroke="#4848b8" stroke-width="0.7"/>
<line x1="453.77" y1="48.5" x2="453.77" y2="59.7" stroke="#4848b8" stroke-width="0.6"/>
<line x1="452.67" y1="48.5" x2="454.87" y2="48.5" stroke="#4848b8" stroke-width="0.7"/>
<line x1="452.67" y1="59.7" x2="454.87" y2="59.7" stroke="#4848b8" stroke-width="0.7"/>
<line x1="457.38" y1="50.9" x2="457.38" y2="57.3" stroke="#4848b8" stroke-width="0.6"/>
<line x1="456.28" y1="50.9" x2="458.48" y2="50.9" stroke="#4848b8" stroke-width="0.7"/>
<line x1="456.28" y1="57.3" x2="458.48" y2="57.3" stroke="#4848b8" stroke-width="0.7"/>
<line x1="460.99" y1="48.1" x2="460.99" y2="56.9" stroke="#4848b8" stroke-width="0.6"/>
<line x1="459.89" y1="48.1" x2="462.09" y2="48.1" stroke="#4848b8" stroke-width="0.7"/>
<line x1="459.89" y1="56.9" x2="462.09" y2="56.9" stroke="#4848b8" stroke-width="0.7"/>
<line x1="464.59" y1="42.9" x2="464.59" y2="54.1" stroke="#4848b8" stroke-width="0.6"/>
<line x1="463.49" y1="42.9" x2="465.69" y2="42.9" stroke="#4848b8" stroke-width="0.7"/>
<line x1="463.49" y1="54.1" x2="465.69" y2="54.1" stroke="#4848b8" stroke-width="0.7"/>
<line x1="468.2" y1="41.3" x2="468.2" y2="47.7" stroke="#4848b8" stroke-width="0.6"/>
<line x1="467.1" y1="41.3" x2="469.3" y2="41.3" stroke="#4848b8" stroke-width="0.7"/>
<line x1="467.1" y1="47.7" x2="469.3" y2="47.7" stroke="#4848b8" stroke-width="0.7"/>
<circle cx="370.8" cy="68.5" r="1.5" fill="#2020b0"/>
<circle cx="374.41" cy="67.3" r="1.5" fill="#2020b0"/>
<circle cx="378.01" cy="70.5" r="1.5" fill="#2020b0"/>
<circle cx="381.62" cy="71.7" r="1.5" fill="#2020b0"/>
<circle cx="385.23" cy="71.3" r="1.5" fill="#2020b0"/>
<circle cx="388.84" cy="73.3" r="1.5" fill="#2020b0"/>
<circle cx="392.44" cy="72.1" r="1.5" fill="#2020b0"/>
<circle cx="396.05" cy="74.5" r="1.5" fill="#2020b0"/>
<circle cx="399.66" cy="69.7" r="1.5" fill="#2020b0"/>
<circle cx="403.27" cy="72.5" r="1.5" fill="#2020b0"/>
<circle cx="406.87" cy="72.5" r="1.5" fill="#2020b0"/>
<circle cx="410.48" cy="73.7" r="1.5" fill="#2020b0"/>
<circle cx="414.09" cy="74.5" r="1.5" fill="#2020b0"/>
<circle cx="417.7" cy="71.7" r="1.5" fill="#2020b0"/>
<circle cx="421.3" cy="64.9" r="1.5" fill="#2020b0"/>
<circle cx="424.91" cy="71.3" r="1.5" fill="#2020b0"/>
<circle cx="428.52" cy="66.5" r="1.5" fill="#2020b0"/>
<circle cx="432.13" cy="66.9" r="1.5" fill="#2020b0"/>
<circle cx="435.73" cy="58.5" r="1.5" fill="#2020b0"/>
<circle cx="439.34" cy="58.5" r="1.5" fill="#2020b0"/>
<circle cx="442.95" cy="54.5" r="1.5" fill="#2020b0"/>
<circle cx="446.56" cy="49.3" r="1.5" fill="#2020b0"/>
<circle cx="450.16" cy="56.5" r="1.5" fill="#2020b0"/>
<circle cx="453.77" cy="54.1" r="1.5" fill="#2020b0"/>
<circle cx="457.38" cy="54.1" r="1.5" fill="#2020b0"/>
<circle cx="460.99" cy="52.5" r="1.5" fill="#2020b0"/>
<circle cx="464.59" cy="48.5" r="1.5" fill="#2020b0"/>
<circle cx="468.2" cy="44.5" r="1.5" fill="#2020b0"/>
<polyline points="370.8,68.5 374.41,69.7 378.01,67.7 381.62,65.7 385.23,64.5 388.84,63.7 392.44,65.7 396.05,59.7 399.66,66.9 403.27,63.7 406.87,61.7 410.48,61.7 414.09,62.9 417.7,60.5 421.3,52.5 424.91,59.7 428.52,55.3 432.13,51.3 435.73,46.1 439.34,44.9 442.95,41.7 446.56,39.7 450.16,46.9 453.77,44.9 457.38,44.9 460.99,46.1 464.59,41.7 468.2,37.7" fill="none" stroke="#e01525" stroke-width="0.8"/>
<line x1="370.8" y1="65.3" x2="370.8" y2="71.7" stroke="#d84050" stroke-width="0.6"/>
<line x1="369.7" y1="65.3" x2="371.9" y2="65.3" stroke="#d84050" stroke-width="0.7"/>
<line x1="369.7" y1="71.7" x2="371.9" y2="71.7" stroke="#d84050" stroke-width="0.7"/>
<line x1="374.41" y1="65.3" x2="374.41" y2="74.1" stroke="#d84050" stroke-width="0.6"/>
<line x1="373.31" y1="65.3" x2="375.51" y2="65.3" stroke="#d84050" stroke-width="0.7"/>
<line x1="373.31" y1="74.1" x2="375.51" y2="74.1" stroke="#d84050" stroke-width="0.7"/>
<line x1="378.01" y1="62.1" x2="378.01" y2="73.3" stroke="#d84050" stroke-width="0.6"/>
<line x1="376.91" y1="62.1" x2="379.11" y2="62.1" stroke="#d84050" stroke-width="0.7"/>
<line x1="376.91" y1="73.3" x2="379.11" y2="73.3" stroke="#d84050" stroke-width="0.7"/>
<line x1="381.62" y1="62.5" x2="381.62" y2="68.9" stroke="#d84050" stroke-width="0.6"/>
<line x1="380.52" y1="62.5" x2="382.72" y2="62.5" stroke="#d84050" stroke-width="0.7"/>
<line x1="380.52" y1="68.9" x2="382.72" y2="68.9" stroke="#d84050" stroke-width="0.7"/>
<line x1="385.23" y1="60.1" x2="385.23" y2="68.9" stroke="#d84050" stroke-width="0.6"/>
<line x1="384.13" y1="60.1" x2="386.33" y2="60.1" stroke="#d84050" stroke-width="0.7"/>
<line x1="384.13" y1="68.9" x2="386.33" y2="68.9" stroke="#d84050" stroke-width="0.7"/>
<line x1="388.84" y1="58.1" x2="388.84" y2="69.3" stroke="#d84050" stroke-width="0.6"/>
<line x1="387.74" y1="58.1" x2="389.94" y2="58.1" stroke="#d84050" stroke-width="0.7"/>
<line x1="387.74" y1="69.3" x2="389.94" y2="69.3" stroke="#d84050" stroke-width="0.7"/>
<line x1="392.44" y1="62.5" x2="392.44" y2="68.9" stroke="#d84050" stroke-width="0.6"/>
<line x1="391.34" y1="62.5" x2="393.54" y2="62.5" stroke="#d84050" stroke-width="0.7"/>
<line x1="391.34" y1="68.9" x2="393.54" y2="68.9" stroke="#d84050" stroke-width="0.7"/>
<line x1="396.05" y1="55.3" x2="396.05" y2="64.1" stroke="#d84050" stroke-width="0.6"/>
<line x1="394.95" y1="55.3" x2="397.15" y2="55.3" stroke="#d84050" stroke-width="0.7"/>
<line x1="394.95" y1="64.1" x2="397.15" y2="64.1" stroke="#d84050" stroke-width="0.7"/>
<line x1="399.66" y1="61.3" x2="399.66" y2="72.5" stroke="#d84050" stroke-width="0.6"/>
<line x1="398.56" y1="61.3" x2="400.76" y2="61.3" stroke="#d84050" stroke-width="0.7"/>
<line x1="398.56" y1="72.5" x2="400.76" y2="72.5" stroke="#d84050" stroke-width="0.7"/>
<line x1="403.27" y1="60.5" x2="403.27" y2="66.9" stroke="#d84050" stroke-width="0.6"/>
<line x1="402.17" y1="60.5" x2="404.37" y2="60.5" stroke="#d84050" stroke-width="0.7"/>
<line x1="402.17" y1="66.9" x2="404.37" y2="66.9" stroke="#d84050" stroke-width="0.7"/>
<line x1="406.87" y1="57.3" x2="406.87" y2="66.1" stroke="#d84050" stroke-width="0.6"/>
<line x1="405.77" y1="57.3" x2="407.97" y2="57.3" stroke="#d84050" stroke-width="0.7"/>
<line x1="405.77" y1="66.1" x2="407.97" y2="66.1" stroke="#d84050" stroke-width="0.7"/>
<line x1="410.48" y1="56.1" x2="410.48" y2="67.3" stroke="#d84050" stroke-width="0.6"/>
<line x1="409.38" y1="56.1" x2="411.58" y2="56.1" stroke="#d84050" stroke-width="0.7"/>
<line x1="409.38" y1="67.3" x2="411.58" y2="67.3" stroke="#d84050" stroke-width="0.7"/>
<line x1="414.09" y1="59.7" x2="414.09" y2="66.1" stroke="#d84050" stroke-width="0.6"/>
<line x1="412.99" y1="59.7" x2="415.19" y2="59.7" stroke="#d84050" stroke-width="0.7"/>
<line x1="412.99" y1="66.1" x2="415.19" y2="66.1" stroke="#d84050" stroke-width="0.7"/>
<line x1="417.7" y1="56.1" x2="417.7" y2="64.9" stroke="#d84050" stroke-width="0.6"/>
<line x1="416.6" y1="56.1" x2="418.8" y2="56.1" stroke="#d84050" stroke-width="0.7"/>
<line x1="416.6" y1="64.9" x2="418.8" y2="64.9" stroke="#d84050" stroke-width="0.7"/>
<line x1="421.3" y1="46.9" x2="421.3" y2="58.1" stroke="#d84050" stroke-width="0.6"/>
<line x1="420.2" y1="46.9" x2="422.4" y2="46.9" stroke="#d84050" stroke-width="0.7"/>
<line x1="420.2" y1="58.1" x2="422.4" y2="58.1" stroke="#d84050" stroke-width="0.7"/>
<line x1="424.91" y1="56.5" x2="424.91" y2="62.9" stroke="#d84050" stroke-width="0.6"/>
<line x1="423.81" y1="56.5" x2="426.01" y2="56.5" stroke="#d84050" stroke-width="0.7"/>
<line x1="423.81" y1="62.9" x2="426.01" y2="62.9" stroke="#d84050" stroke-width="0.7"/>
<line x1="428.52" y1="50.9" x2="428.52" y2="59.7" stroke="#d84050" stroke-width="0.6"/>
<line x1="427.42" y1="50.9" x2="429.62" y2="50.9" stroke="#d84050" stroke-width="0.7"/>
<line x1="427.42" y1="59.7" x2="429.62" y2="59.7" stroke="#d84050" stroke-width="0.7"/>
<line x1="432.13" y1="45.7" x2="432.13" y2="56.9" stroke="#d84050" stroke-width="0.6"/>
<line x1="431.03" y1="45.7" x2="433.23" y2="45.7" stroke="#d84050" stroke-width="0.7"/>
<line x1="431.03" y1="56.9" x2="433.23" y2="56.9" stroke="#d84050" stroke-width="0.7"/>
<line x1="435.73" y1="42.9" x2="435.73" y2="49.3" stroke="#d84050" stroke-width="0.6"/>
<line x1="434.63" y1="42.9" x2="436.83" y2="42.9" stroke="#d84050" stroke-width="0.7"/>
<line x1="434.63" y1="49.3" x2="436.83" y2="49.3" stroke="#d84050" stroke-width="0.7"/>
<line x1="439.34" y1="40.5" x2="439.34" y2="49.3" stroke="#d84050" stroke-width="0.6"/>
<line x1="438.24" y1="40.5" x2="440.44" y2="40.5" stroke="#d84050" stroke-width="0.7"/>
<line x1="438.24" y1="49.3" x2="440.44" y2="49.3" stroke="#d84050" stroke-width="0.7"/>
<line x1="442.95" y1="36.1" x2="442.95" y2="47.3" stroke="#d84050" stroke-width="0.6"/>
<line x1="441.85" y1="36.1" x2="444.05" y2="36.1" stroke="#d84050" stroke-width="0.7"/>
<line x1="441.85" y1="47.3" x2="444.05" y2="47.3" stroke="#d84050" stroke-width="0.7"/>
<line x1="446.56" y1="36.5" x2="446.56" y2="42.9" stroke="#d84050" stroke-width="0.6"/>
<line x1="445.46" y1="36.5" x2="447.66" y2="36.5" stroke="#d84050" stroke-width="0.7"/>
<line x1="445.46" y1="42.9" x2="447.66" y2="42.9" stroke="#d84050" stroke-width="0.7"/>
<line x1="450.16" y1="42.5" x2="450.16" y2="51.3" stroke="#d84050" stroke-width="0.6"/>
<line x1="449.06" y1="42.5" x2="451.26" y2="42.5" stroke="#d84050" stroke-width="0.7"/>
<line x1="449.06" y1="51.3" x2="451.26" y2="51.3" stroke="#d84050" stroke-width="0.7"/>
<line x1="453.77" y1="39.3" x2="453.77" y2="50.5" stroke="#d84050" stroke-width="0.6"/>
<line x1="452.67" y1="39.3" x2="454.87" y2="39.3" stroke="#d84050" stroke-width="0.7"/>
<line x1="452.67" y1="50.5" x2="454.87" y2="50.5" stroke="#d84050" stroke-width="0.7"/>
<line x1="457.38" y1="41.7" x2="457.38" y2="48.1" stroke="#d84050" stroke-width="0.6"/>
<line x1="456.28" y1="41.7" x2="458.48" y2="41.7" stroke="#d84050" stroke-width="0.7"/>
<line x1="456.28" y1="48.1" x2="458.48" y2="48.1" stroke="#d84050" stroke-width="0.7"/>
<line x1="460.99" y1="41.7" x2="460.99" y2="50.5" stroke="#d84050" stroke-width="0.6"/>
<line x1="459.89" y1="41.7" x2="462.09" y2="41.7" stroke="#d84050" stroke-width="0.7"/>
<line x1="459.89" y1="50.5" x2="462.09" y2="50.5" stroke="#d84050" stroke-width="0.7"/>
<line x1="464.59" y1="36.1" x2="464.59" y2="47.3" stroke="#d84050" stroke-width="0.6"/>
<line x1="463.49" y1="36.1" x2="465.69" y2="36.1" stroke="#d84050" stroke-width="0.7"/>
<line x1="463.49" y1="47.3" x2="465.69" y2="47.3" stroke="#d84050" stroke-width="0.7"/>
<line x1="468.2" y1="34.5" x2="468.2" y2="40.9" stroke="#d84050" stroke-width="0.6"/>
<line x1="467.1" y1="34.5" x2="469.3" y2="34.5" stroke="#d84050" stroke-width="0.7"/>
<line x1="467.1" y1="40.9" x2="469.3" y2="40.9" stroke="#d84050" stroke-width="0.7"/>
<rect x="369.35" y="67.05" width="2.9" height="2.9" fill="#e01525"/>
<rect x="372.96" y="68.25" width="2.9" height="2.9" fill="#e01525"/>
<rect x="376.56" y="66.25" width="2.9" height="2.9" fill="#e01525"/>
<rect x="380.17" y="64.25" width="2.9" height="2.9" fill="#e01525"/>
<rect x="383.78" y="63.05" width="2.9" height="2.9" fill="#e01525"/>
<rect x="387.39" y="62.25" width="2.9" height="2.9" fill="#e01525"/>
<rect x="390.99" y="64.25" width="2.9" height="2.9" fill="#e01525"/>
<rect x="394.6" y="58.25" width="2.9" height="2.9" fill="#e01525"/>
<rect x="398.21" y="65.45" width="2.9" height="2.9" fill="#e01525"/>
<rect x="401.82" y="62.25" width="2.9" height="2.9" fill="#e01525"/>
<rect x="405.42" y="60.25" width="2.9" height="2.9" fill="#e01525"/>
<rect x="409.03" y="60.25" width="2.9" height="2.9" fill="#e01525"/>
<rect x="412.64" y="61.45" width="2.9" height="2.9" fill="#e01525"/>
<rect x="416.25" y="59.05" width="2.9" height="2.9" fill="#e01525"/>
<rect x="419.85" y="51.05" width="2.9" height="2.9" fill="#e01525"/>
<rect x="423.46" y="58.25" width="2.9" height="2.9" fill="#e01525"/>
<rect x="427.07" y="53.85" width="2.9" height="2.9" fill="#e01525"/>
<rect x="430.68" y="49.85" width="2.9" height="2.9" fill="#e01525"/>
<rect x="434.28" y="44.65" width="2.9" height="2.9" fill="#e01525"/>
<rect x="437.89" y="43.45" width="2.9" height="2.9" fill="#e01525"/>
<rect x="441.5" y="40.25" width="2.9" height="2.9" fill="#e01525"/>
<rect x="445.11" y="38.25" width="2.9" height="2.9" fill="#e01525"/>
<rect x="448.71" y="45.45" width="2.9" height="2.9" fill="#e01525"/>
<rect x="452.32" y="43.45" width="2.9" height="2.9" fill="#e01525"/>
<rect x="455.93" y="43.45" width="2.9" height="2.9" fill="#e01525"/>
<rect x="459.54" y="44.65" width="2.9" height="2.9" fill="#e01525"/>
<rect x="463.14" y="40.25" width="2.9" height="2.9" fill="#e01525"/>
<rect x="466.75" y="36.25" width="2.9" height="2.9" fill="#e01525"/>
<polyline points="370.8,68.5 374.41,74.5 378.01,73.7 381.62,71.3 385.23,70.5 388.84,69.3 392.44,75.3 396.05,79.7 399.66,70.5 403.27,74.9 406.87,74.5 410.48,72.1 414.09,72.1 417.7,70.9 421.3,61.3 424.91,66.1 428.52,62.1 432.13,63.3 435.73,54.1 439.34,54.9 442.95,50.9 446.56,39.7 450.16,59.7 453.77,58.1 457.38,58.9 460.99,54.9 464.59,48.9 468.2,45.7" fill="none" stroke="#45e045" stroke-width="0.8"/>
<line x1="370.8" y1="65.3" x2="370.8" y2="71.7" stroke="#50d050" stroke-width="0.6"/>
<line x1="369.7" y1="65.3" x2="371.9" y2="65.3" stroke="#50d050" stroke-width="0.7"/>
<line x1="369.7" y1="71.7" x2="371.9" y2="71.7" stroke="#50d050" stroke-width="0.7"/>
<line x1="374.41" y1="70.1" x2="374.41" y2="78.9" stroke="#50d050" stroke-width="0.6"/>
<line x1="373.31" y1="70.1" x2="375.51" y2="70.1" stroke="#50d050" stroke-width="0.7"/>
<line x1="373.31" y1="78.9" x2="375.51" y2="78.9" stroke="#50d050" stroke-width="0.7"/>
<line x1="378.01" y1="68.1" x2="378.01" y2="79.3" stroke="#50d050" stroke-width="0.6"/>
<line x1="376.91" y1="68.1" x2="379.11" y2="68.1" stroke="#50d050" stroke-width="0.7"/>
<line x1="376.91" y1="79.3" x2="379.11" y2="79.3" stroke="#50d050" stroke-width="0.7"/>
<line x1="381.62" y1="68.1" x2="381.62" y2="74.5" stroke="#50d050" stroke-width="0.6"/>
<line x1="380.52" y1="68.1" x2="382.72" y2="68.1" stroke="#50d050" stroke-width="0.7"/>
<line x1="380.52" y1="74.5" x2="382.72" y2="74.5" stroke="#50d050" stroke-width="0.7"/>
<line x1="385.23" y1="66.1" x2="385.23" y2="74.9" stroke="#50d050" stroke-width="0.6"/>
<line x1="384.13" y1="66.1" x2="386.33" y2="66.1" stroke="#50d050" stroke-width="0.7"/>
<line x1="384.13" y1="74.9" x2="386.33" y2="74.9" stroke="#50d050" stroke-width="0.7"/>
<line x1="388.84" y1="63.7" x2="388.84" y2="74.9" stroke="#50d050" stroke-width="0.6"/>
<line x1="387.74" y1="63.7" x2="389.94" y2="63.7" stroke="#50d050" stroke-width="0.7"/>
<line x1="387.74" y1="74.9" x2="389.94" y2="74.9" stroke="#50d050" stroke-width="0.7"/>
<line x1="392.44" y1="72.1" x2="392.44" y2="78.5" stroke="#50d050" stroke-width="0.6"/>
<line x1="391.34" y1="72.1" x2="393.54" y2="72.1" stroke="#50d050" stroke-width="0.7"/>
<line x1="391.34" y1="78.5" x2="393.54" y2="78.5" stroke="#50d050" stroke-width="0.7"/>
<line x1="396.05" y1="75.3" x2="396.05" y2="84.1" stroke="#50d050" stroke-width="0.6"/>
<line x1="394.95" y1="75.3" x2="397.15" y2="75.3" stroke="#50d050" stroke-width="0.7"/>
<line x1="394.95" y1="84.1" x2="397.15" y2="84.1" stroke="#50d050" stroke-width="0.7"/>
<line x1="399.66" y1="64.9" x2="399.66" y2="76.1" stroke="#50d050" stroke-width="0.6"/>
<line x1="398.56" y1="64.9" x2="400.76" y2="64.9" stroke="#50d050" stroke-width="0.7"/>
<line x1="398.56" y1="76.1" x2="400.76" y2="76.1" stroke="#50d050" stroke-width="0.7"/>
<line x1="403.27" y1="71.7" x2="403.27" y2="78.1" stroke="#50d050" stroke-width="0.6"/>
<line x1="402.17" y1="71.7" x2="404.37" y2="71.7" stroke="#50d050" stroke-width="0.7"/>
<line x1="402.17" y1="78.1" x2="404.37" y2="78.1" stroke="#50d050" stroke-width="0.7"/>
<line x1="406.87" y1="70.1" x2="406.87" y2="78.9" stroke="#50d050" stroke-width="0.6"/>
<line x1="405.77" y1="70.1" x2="407.97" y2="70.1" stroke="#50d050" stroke-width="0.7"/>
<line x1="405.77" y1="78.9" x2="407.97" y2="78.9" stroke="#50d050" stroke-width="0.7"/>
<line x1="410.48" y1="66.5" x2="410.48" y2="77.7" stroke="#50d050" stroke-width="0.6"/>
<line x1="409.38" y1="66.5" x2="411.58" y2="66.5" stroke="#50d050" stroke-width="0.7"/>
<line x1="409.38" y1="77.7" x2="411.58" y2="77.7" stroke="#50d050" stroke-width="0.7"/>
<line x1="414.09" y1="68.9" x2="414.09" y2="75.3" stroke="#50d050" stroke-width="0.6"/>
<line x1="412.99" y1="68.9" x2="415.19" y2="68.9" stroke="#50d050" stroke-width="0.7"/>
<line x1="412.99" y1="75.3" x2="415.19" y2="75.3" stroke="#50d050" stroke-width="0.7"/>
<line x1="417.7" y1="66.5" x2="417.7" y2="75.3" stroke="#50d050" stroke-width="0.6"/>
<line x1="416.6" y1="66.5" x2="418.8" y2="66.5" stroke="#50d050" stroke-width="0.7"/>
<line x1="416.6" y1="75.3" x2="418.8" y2="75.3" stroke="#50d050" stroke-width="0.7"/>
<line x1="421.3" y1="55.7" x2="421.3" y2="66.9" stroke="#50d050" stroke-width="0.6"/>
<line x1="420.2" y1="55.7" x2="422.4" y2="55.7" stroke="#50d050" stroke-width="0.7"/>
<line x1="420.2" y1="66.9" x2="422.4" y2="66.9" stroke="#50d050" stroke-width="0.7"/>
<line x1="424.91" y1="62.9" x2="424.91" y2="69.3" stroke="#50d050" stroke-width="0.6"/>
<line x1="423.81" y1="62.9" x2="426.01" y2="62.9" stroke="#50d050" stroke-width="0.7"/>
<line x1="423.81" y1="69.3" x2="426.01" y2="69.3" stroke="#50d050" stroke-width="0.7"/>
<line x1="428.52" y1="57.7" x2="428.52" y2="66.5" stroke="#50d050" stroke-width="0.6"/>
<line x1="427.42" y1="57.7" x2="429.62" y2="57.7" stroke="#50d050" stroke-width="0.7"/>
<line x1="427.42" y1="66.5" x2="429.62" y2="66.5" stroke="#50d050" stroke-width="0.7"/>
<line x1="432.13" y1="57.7" x2="432.13" y2="68.9" stroke="#50d050" stroke-width="0.6"/>
<line x1="431.03" y1="57.7" x2="433.23" y2="57.7" stroke="#50d050" stroke-width="0.7"/>
<line x1="431.03" y1="68.9" x2="433.23" y2="68.9" stroke="#50d050" stroke-width="0.7"/>
<line x1="435.73" y1="50.9" x2="435.73" y2="57.3" stroke="#50d050" stroke-width="0.6"/>
<line x1="434.63" y1="50.9" x2="436.83" y2="50.9" stroke="#50d050" stroke-width="0.7"/>
<line x1="434.63" y1="57.3" x2="436.83" y2="57.3" stroke="#50d050" stroke-width="0.7"/>
<line x1="439.34" y1="50.5" x2="439.34" y2="59.3" stroke="#50d050" stroke-width="0.6"/>
<line x1="438.24" y1="50.5" x2="440.44" y2="50.5" stroke="#50d050" stroke-width="0.7"/>
<line x1="438.24" y1="59.3" x2="440.44" y2="59.3" stroke="#50d050" stroke-width="0.7"/>
<line x1="442.95" y1="45.3" x2="442.95" y2="56.5" stroke="#50d050" stroke-width="0.6"/>
<line x1="441.85" y1="45.3" x2="444.05" y2="45.3" stroke="#50d050" stroke-width="0.7"/>
<line x1="441.85" y1="56.5" x2="444.05" y2="56.5" stroke="#50d050" stroke-width="0.7"/>
<line x1="446.56" y1="36.5" x2="446.56" y2="42.9" stroke="#50d050" stroke-width="0.6"/>
<line x1="445.46" y1="36.5" x2="447.66" y2="36.5" stroke="#50d050" stroke-width="0.7"/>
<line x1="445.46" y1="42.9" x2="447.66" y2="42.9" stroke="#50d050" stroke-width="0.7"/>
<line x1="450.16" y1="55.3" x2="450.16" y2="64.1" stroke="#50d050" stroke-width="0.6"/>
<line x1="449.06" y1="55.3" x2="451.26" y2="55.3" stroke="#50d050" stroke-width="0.7"/>
<line x1="449.06" y1="64.1" x2="451.26" y2="64.1" stroke="#50d050" stroke-width="0.7"/>
<line x1="453.77" y1="52.5" x2="453.77" y2="63.7" stroke="#50d050" stroke-width="0.6"/>
<line x1="452.67" y1="52.5" x2="454.87" y2="52.5" stroke="#50d050" stroke-width="0.7"/>
<line x1="452.67" y1="63.7" x2="454.87" y2="63.7" stroke="#50d050" stroke-width="0.7"/>
<line x1="457.38" y1="55.7" x2="457.38" y2="62.1" stroke="#50d050" stroke-width="0.6"/>
<line x1="456.28" y1="55.7" x2="458.48" y2="55.7" stroke="#50d050" stroke-width="0.7"/>
<line x1="456.28" y1="62.1" x2="458.48" y2="62.1" stroke="#50d050" stroke-width="0.7"/>
<line x1="460.99" y1="50.5" x2="460.99" y2="59.3" stroke="#50d050" stroke-width="0.6"/>
<line x1="459.89" y1="50.5" x2="462.09" y2="50.5" stroke="#50d050" stroke-width="0.7"/>
<line x1="459.89" y1="59.3" x2="462.09" y2="59.3" stroke="#50d050" stroke-width="0.7"/>
<line x1="464.59" y1="43.3" x2="464.59" y2="54.5" stroke="#50d050" stroke-width="0.6"/>
<line x1="463.49" y1="43.3" x2="465.69" y2="43.3" stroke="#50d050" stroke-width="0.7"/>
<line x1="463.49" y1="54.5" x2="465.69" y2="54.5" stroke="#50d050" stroke-width="0.7"/>
<line x1="468.2" y1="42.5" x2="468.2" y2="48.9" stroke="#50d050" stroke-width="0.6"/>
<line x1="467.1" y1="42.5" x2="469.3" y2="42.5" stroke="#50d050" stroke-width="0.7"/>
<line x1="467.1" y1="48.9" x2="469.3" y2="48.9" stroke="#50d050" stroke-width="0.7"/>
<path d="M370.8 66.66L372.5 69.72L369.1 69.72Z" fill="#45e045"/>
<path d="M374.41 72.66L376.11 75.72L372.71 75.72Z" fill="#45e045"/>
<path d="M378.01 71.86L379.71 74.92L376.31 74.92Z" fill="#45e045"/>
<path d="M381.62 69.46L383.32 72.52L379.92 72.52Z" fill="#45e045"/>
<path d="M385.23 68.66L386.93 71.72L383.53 71.72Z" fill="#45e045"/>
<path d="M388.84 67.46L390.54 70.52L387.14 70.52Z" fill="#45e045"/>
<path d="M392.44 73.46L394.14 76.52L390.74 76.52Z" fill="#45e045"/>
<path d="M396.05 77.86L397.75 80.92L394.35 80.92Z" fill="#45e045"/>
<path d="M399.66 68.66L401.36 71.72L397.96 71.72Z" fill="#45e045"/>
<path d="M403.27 73.06L404.97 76.12L401.57 76.12Z" fill="#45e045"/>
<path d="M406.87 72.66L408.57 75.72L405.17 75.72Z" fill="#45e045"/>
<path d="M410.48 70.26L412.18 73.32L408.78 73.32Z" fill="#45e045"/>
<path d="M414.09 70.26L415.79 73.32L412.39 73.32Z" fill="#45e045"/>
<path d="M417.7 69.06L419.4 72.12L416 72.12Z" fill="#45e045"/>
<path d="M421.3 59.46L423 62.52L419.6 62.52Z" fill="#45e045"/>
<path d="M424.91 64.26L426.61 67.32L423.21 67.32Z" fill="#45e045"/>
<path d="M428.52 60.26L430.22 63.32L426.82 63.32Z" fill="#45e045"/>
<path d="M432.13 61.46L433.83 64.52L430.43 64.52Z" fill="#45e045"/>
<path d="M435.73 52.26L437.43 55.32L434.03 55.32Z" fill="#45e045"/>
<path d="M439.34 53.06L441.04 56.12L437.64 56.12Z" fill="#45e045"/>
<path d="M442.95 49.06L444.65 52.12L441.25 52.12Z" fill="#45e045"/>
<path d="M446.56 37.86L448.26 40.92L444.86 40.92Z" fill="#45e045"/>
<path d="M450.16 57.86L451.86 60.92L448.46 60.92Z" fill="#45e045"/>
<path d="M453.77 56.26L455.47 59.32L452.07 59.32Z" fill="#45e045"/>
<path d="M457.38 57.06L459.08 60.12L455.68 60.12Z" fill="#45e045"/>
<path d="M460.99 53.06L462.69 56.12L459.29 56.12Z" fill="#45e045"/>
<path d="M464.59 47.06L466.29 50.12L462.89 50.12Z" fill="#45e045"/>
<path d="M468.2 43.86L469.9 46.92L466.5 46.92Z" fill="#45e045"/>
<line x1="478.6" y1="39.8" x2="486.3" y2="39.8" stroke="#2020b0" stroke-width="0.9"/>
<circle cx="482.4" cy="39.8" r="1.7" fill="#2020b0"/>
<text x="490.2" y="42.43" font-size="7.34" style="font-weight:normal;stroke-width:0.1px;" fill="#1a1a1a" textLength="21.12" lengthAdjust="spacingAndGlyphs">Vehicle</text>
<line x1="478.6" y1="49.2" x2="486.3" y2="49.2" stroke="#e01525" stroke-width="0.9"/>
<circle cx="482.4" cy="49.2" r="1.7" fill="#e01525"/>
<text x="490.2" y="51.83" font-size="7.34" style="font-weight:normal;stroke-width:0.1px;" fill="#1a1a1a" textLength="28.03" lengthAdjust="spacingAndGlyphs">Paclitaxel</text>
<line x1="478.6" y1="58.5" x2="486.3" y2="58.5" stroke="#45e045" stroke-width="0.9"/>
<circle cx="482.4" cy="58.5" r="1.7" fill="#45e045"/>
<text x="490.2" y="61.13" font-size="7.34" style="font-weight:normal;stroke-width:0.1px;" fill="#1a1a1a" textLength="30.33" lengthAdjust="spacingAndGlyphs">VERU-111</text>
<text x="-0.1" y="159.5" font-size="16">D</text>
<line x1="45.2" y1="189.82" x2="45.2" y2="301.1" stroke="#2a2a2a" stroke-width="1.1"/>
<line x1="43" y1="190.12" x2="45.2" y2="190.12" stroke="#2a2a2a" stroke-width="0.9"/>
<line x1="43" y1="203.93" x2="45.2" y2="203.93" stroke="#2a2a2a" stroke-width="0.9"/>
<line x1="43" y1="217.74" x2="45.2" y2="217.74" stroke="#2a2a2a" stroke-width="0.9"/>
<line x1="43" y1="231.55" x2="45.2" y2="231.55" stroke="#2a2a2a" stroke-width="0.9"/>
<line x1="43" y1="245.36" x2="45.2" y2="245.36" stroke="#2a2a2a" stroke-width="0.9"/>
<line x1="43" y1="259.17" x2="45.2" y2="259.17" stroke="#2a2a2a" stroke-width="0.9"/>
<line x1="43" y1="272.98" x2="45.2" y2="272.98" stroke="#2a2a2a" stroke-width="0.9"/>
<line x1="43" y1="286.79" x2="45.2" y2="286.79" stroke="#2a2a2a" stroke-width="0.9"/>
<line x1="43" y1="300.6" x2="45.2" y2="300.6" stroke="#2a2a2a" stroke-width="0.9"/>
<text x="43" y="192.57" font-size="6.83" text-anchor="end" fill="#111" textLength="10.18" lengthAdjust="spacingAndGlyphs">800</text>
<text x="43" y="206.38" font-size="6.83" text-anchor="end" fill="#111" textLength="10.18" lengthAdjust="spacingAndGlyphs">700</text>
<text x="43" y="220.19" font-size="6.83" text-anchor="end" fill="#111" textLength="10.18" lengthAdjust="spacingAndGlyphs">600</text>
<text x="43" y="234" font-size="6.83" text-anchor="end" fill="#111" textLength="10.18" lengthAdjust="spacingAndGlyphs">500</text>
<text x="43" y="247.81" font-size="6.83" text-anchor="end" fill="#111" textLength="10.18" lengthAdjust="spacingAndGlyphs">400</text>
<text x="43" y="261.62" font-size="6.83" text-anchor="end" fill="#111" textLength="10.18" lengthAdjust="spacingAndGlyphs">300</text>
<text x="43" y="275.43" font-size="6.83" text-anchor="end" fill="#111" textLength="10.18" lengthAdjust="spacingAndGlyphs">200</text>
<text x="43" y="289.24" font-size="6.83" text-anchor="end" fill="#111" textLength="10.18" lengthAdjust="spacingAndGlyphs">100</text>
<text x="43" y="303.05" font-size="6.83" text-anchor="end" fill="#111" textLength="3.39" lengthAdjust="spacingAndGlyphs">0</text>
<line x1="44.7" y1="300.6" x2="168.2" y2="300.6" stroke="#2a2a2a" stroke-width="1.1"/>
<text transform="translate(25.45 243.7) rotate(-90)" x="0" y="0" font-size="7.4" text-anchor="middle" textLength="92" lengthAdjust="spacingAndGlyphs"><tspan font-style="italic">Ex vivo</tspan> tumor volume (mm<tspan font-size="4.4" dy="-2.2">3</tspan><tspan dy="2.2">)</tspan></text>
<line x1="73.8" y1="246.2" x2="73.8" y2="254.6" stroke="#1d0fb0" stroke-width="0.8"/>
<line x1="68.3" y1="246.2" x2="79.3" y2="246.2" stroke="#1d0fb0" stroke-width="0.8"/>
<line x1="68.3" y1="254.6" x2="79.3" y2="254.6" stroke="#1d0fb0" stroke-width="0.8"/>
<line x1="63" y1="250.1" x2="84.6" y2="250.1" stroke="#1d0fb0" stroke-width="1"/>
<line x1="106.9" y1="240" x2="106.9" y2="246.4" stroke="#d5111f" stroke-width="0.8"/>
<line x1="101.2" y1="240" x2="112.6" y2="240" stroke="#d5111f" stroke-width="0.8"/>
<line x1="101.2" y1="246.4" x2="112.6" y2="246.4" stroke="#d5111f" stroke-width="0.8"/>
<line x1="96.1" y1="243.26" x2="117.7" y2="243.26" stroke="#d5111f" stroke-width="1"/>
<line x1="140.5" y1="285.83" x2="140.5" y2="288.83" stroke="#2ddc2d" stroke-width="0.8"/>
<line x1="135.5" y1="285.83" x2="145.5" y2="285.83" stroke="#2ddc2d" stroke-width="0.8"/>
<line x1="135.5" y1="288.83" x2="145.5" y2="288.83" stroke="#2ddc2d" stroke-width="0.8"/>
<line x1="130.5" y1="287.33" x2="150.5" y2="287.33" stroke="#2ddc2d" stroke-width="1"/>
<circle cx="70" cy="218.9" r="2" fill="#1d0fb0"/>
<circle cx="77.4" cy="218.5" r="2" fill="#1d0fb0"/>
<circle cx="73.8" cy="225.4" r="2" fill="#1d0fb0"/>
<circle cx="68.9" cy="228.2" r="2" fill="#1d0fb0"/>
<circle cx="73.8" cy="229.7" r="2" fill="#1d0fb0"/>
<circle cx="78.5" cy="228.8" r="2" fill="#1d0fb0"/>
<circle cx="64.6" cy="231.5" r="2" fill="#1d0fb0"/>
<circle cx="82.8" cy="231.5" r="2" fill="#1d0fb0"/>
<circle cx="77.4" cy="239.2" r="2" fill="#1d0fb0"/>
<circle cx="70" cy="241.8" r="2" fill="#1d0fb0"/>
<circle cx="64.6" cy="250.3" r="2" fill="#1d0fb0"/>
<circle cx="82.8" cy="250.3" r="2" fill="#1d0fb0"/>
<circle cx="73.8" cy="253.8" r="2" fill="#1d0fb0"/>
<circle cx="64.6" cy="257.2" r="2" fill="#1d0fb0"/>
<circle cx="82.8" cy="256.2" r="2" fill="#1d0fb0"/>
<circle cx="73.8" cy="261.1" r="2" fill="#1d0fb0"/>
<circle cx="64.6" cy="265.7" r="2" fill="#1d0fb0"/>
<circle cx="70.5" cy="267.2" r="2" fill="#1d0fb0"/>
<circle cx="64.6" cy="270" r="2" fill="#1d0fb0"/>
<circle cx="76.9" cy="270" r="2" fill="#1d0fb0"/>
<circle cx="82.8" cy="268.2" r="2" fill="#1d0fb0"/>
<circle cx="73.8" cy="274.3" r="2" fill="#1d0fb0"/>
<circle cx="70" cy="283.5" r="2" fill="#1d0fb0"/>
<circle cx="77.4" cy="282.6" r="2" fill="#1d0fb0"/>
<rect x="105.2" y="202.4" width="3.6" height="3.6" fill="#d5111f"/>
<rect x="102" y="219.7" width="3.6" height="3.6" fill="#d5111f"/>
<rect x="96.2" y="223.3" width="3.6" height="3.6" fill="#d5111f"/>
<rect x="108.2" y="224" width="3.6" height="3.6" fill="#d5111f"/>
<rect x="102" y="226.7" width="3.6" height="3.6" fill="#d5111f"/>
<rect x="114.7" y="226.7" width="3.6" height="3.6" fill="#d5111f"/>
<rect x="96.2" y="227.9" width="3.6" height="3.6" fill="#d5111f"/>
<rect x="96.2" y="232.5" width="3.6" height="3.6" fill="#d5111f"/>
<rect x="108.2" y="231.3" width="3.6" height="3.6" fill="#d5111f"/>
<rect x="114.7" y="233.6" width="3.6" height="3.6" fill="#d5111f"/>
<rect x="96.2" y="236.7" width="3.6" height="3.6" fill="#d5111f"/>
<rect x="108.2" y="235.9" width="3.6" height="3.6" fill="#d5111f"/>
<rect x="109.7" y="243.6" width="3.6" height="3.6" fill="#d5111f"/>
<rect x="96.2" y="247.4" width="3.6" height="3.6" fill="#d5111f"/>
<rect x="100.5" y="246.7" width="3.6" height="3.6" fill="#d5111f"/>
<rect x="105.4" y="249" width="3.6" height="3.6" fill="#d5111f"/>
<rect x="114.7" y="246.7" width="3.6" height="3.6" fill="#d5111f"/>
<rect x="100.5" y="251.2" width="3.6" height="3.6" fill="#d5111f"/>
<rect x="109.7" y="249.7" width="3.6" height="3.6" fill="#d5111f"/>
<rect x="114.7" y="250.5" width="3.6" height="3.6" fill="#d5111f"/>
<rect x="109.7" y="254" width="3.6" height="3.6" fill="#d5111f"/>
<rect x="100.5" y="255.9" width="3.6" height="3.6" fill="#d5111f"/>
<rect x="101.2" y="264.4" width="3.6" height="3.6" fill="#d5111f"/>
<rect x="109.4" y="262.8" width="3.6" height="3.6" fill="#d5111f"/>
<rect x="109.4" y="267.4" width="3.6" height="3.6" fill="#d5111f"/>
<rect x="101.2" y="270.5" width="3.6" height="3.6" fill="#d5111f"/>
<path d="M135.3 277.69L137.25 281.2L133.35 281.2Z" fill="#22ec22"/>
<path d="M140.5 278.69L142.45 282.2L138.55 282.2Z" fill="#22ec22"/>
<path d="M145.8 278.69L147.75 282.2L143.85 282.2Z" fill="#22ec22"/>
<path d="M133 281.39L134.95 284.9L131.05 284.9Z" fill="#22ec22"/>
<path d="M138 281.19L139.95 284.7L136.05 284.7Z" fill="#22ec22"/>
<path d="M143 281.49L144.95 285L141.05 285Z" fill="#22ec22"/>
<path d="M148.5 281.29L150.45 284.8L146.55 284.8Z" fill="#22ec22"/>
<path d="M151.2 282.09L153.15 285.6L149.25 285.6Z" fill="#22ec22"/>
<path d="M130.5 283.89L132.45 287.4L128.55 287.4Z" fill="#22ec22"/>
<path d="M135 284.09L136.95 287.6L133.05 287.6Z" fill="#22ec22"/>
<path d="M139.5 283.69L141.45 287.2L137.55 287.2Z" fill="#22ec22"/>
<path d="M144 284.19L145.95 287.7L142.05 287.7Z" fill="#22ec22"/>
<path d="M149 283.89L150.95 287.4L147.05 287.4Z" fill="#22ec22"/>
<path d="M132 286.39L133.95 289.9L130.05 289.9Z" fill="#22ec22"/>
<path d="M137 286.59L138.95 290.1L135.05 290.1Z" fill="#22ec22"/>
<path d="M142 286.29L143.95 289.8L140.05 289.8Z" fill="#22ec22"/>
<path d="M146.5 286.69L148.45 290.2L144.55 290.2Z" fill="#22ec22"/>
<path d="M150.5 286.19L152.45 289.7L148.55 289.7Z" fill="#22ec22"/>
<path d="M138.5 290.19L140.45 293.7L136.55 293.7Z" fill="#22ec22"/>
<path d="M144 288.89L145.95 292.4L142.05 292.4Z" fill="#22ec22"/>
<path d="M147 290.89L148.95 294.4L145.05 294.4Z" fill="#22ec22"/>
<path d="M136.8 292.89L138.75 296.4L134.85 296.4Z" fill="#22ec22"/>
<path d="M141.5 292.39L143.45 295.9L139.55 295.9Z" fill="#22ec22"/>
<path d="M144.3 295.49L146.25 299L142.35 299Z" fill="#22ec22"/>
<path d="M131.5 288.39L133.45 291.9L129.55 291.9Z" fill="#22ec22"/>
<text x="73.8" y="199.47" font-size="6.33" text-anchor="middle" fill="#111" textLength="17.6" lengthAdjust="spacingAndGlyphs">365.70</text>
<text x="106.9" y="199.49" font-size="6.4" text-anchor="middle" fill="#111" textLength="17.8" lengthAdjust="spacingAndGlyphs">415.18</text>
<text x="140.6" y="272.8" font-size="6.42" text-anchor="middle" fill="#111" textLength="14.6" lengthAdjust="spacingAndGlyphs">96.10</text>
<line x1="69.2" y1="181.5" x2="142.6" y2="181.5" stroke="#383838" stroke-width="1"/>
<line x1="69.2" y1="180" x2="69.2" y2="183" stroke="#383838" stroke-width="0.9"/>
<line x1="142.6" y1="180" x2="142.6" y2="183" stroke="#383838" stroke-width="0.9"/>
<line x1="106.2" y1="188.9" x2="142.6" y2="188.9" stroke="#383838" stroke-width="1"/>
<line x1="106.2" y1="187.4" x2="106.2" y2="190.4" stroke="#383838" stroke-width="0.9"/>
<line x1="142.6" y1="187.4" x2="142.6" y2="190.4" stroke="#383838" stroke-width="0.9"/>
<text x="105.6" y="181.84" font-size="6.68" text-anchor="middle" fill="#111" style="stroke-width:0.18px">****</text>
<text x="124.6" y="189.58" font-size="6.55" text-anchor="middle" fill="#111" style="stroke-width:0.18px">****</text>
<circle cx="136.5" cy="217.8" r="2" fill="#1d0fb0"/>
<text x="143.9" y="220.37" font-size="7.19" style="font-weight:normal;stroke-width:0.1px;" fill="#1a1a1a" textLength="18.54" lengthAdjust="spacingAndGlyphs">Vehicle</text>
<rect x="134.7" y="223.7" width="3.6" height="3.6" fill="#d5111f"/>
<text x="143.9" y="228.07" font-size="7.19" style="font-weight:normal;stroke-width:0.1px;" fill="#1a1a1a" textLength="24.61" lengthAdjust="spacingAndGlyphs">Paclitaxel</text>
<path d="M136.5 231.84L138.5 235.44L134.5 235.44Z" fill="#3ad83a"/>
<text x="143.9" y="236.57" font-size="7.19" style="font-weight:normal;stroke-width:0.1px;" fill="#1a1a1a" textLength="26.31" lengthAdjust="spacingAndGlyphs">VERU 111</text>
<text x="188.9" y="159.5" font-size="16">E</text>
<line x1="228.3" y1="191.7" x2="228.3" y2="301" stroke="#2a2a2a" stroke-width="1.1"/>
<line x1="226.1" y1="192" x2="228.3" y2="192" stroke="#2a2a2a" stroke-width="0.9"/>
<line x1="226.1" y1="213.7" x2="228.3" y2="213.7" stroke="#2a2a2a" stroke-width="0.9"/>
<line x1="226.1" y1="235.4" x2="228.3" y2="235.4" stroke="#2a2a2a" stroke-width="0.9"/>
<line x1="226.1" y1="257.1" x2="228.3" y2="257.1" stroke="#2a2a2a" stroke-width="0.9"/>
<line x1="226.1" y1="278.8" x2="228.3" y2="278.8" stroke="#2a2a2a" stroke-width="0.9"/>
<line x1="226.1" y1="300.5" x2="228.3" y2="300.5" stroke="#2a2a2a" stroke-width="0.9"/>
<text x="226" y="194.45" font-size="6.83" text-anchor="end" fill="#111" textLength="8.48" lengthAdjust="spacingAndGlyphs">1.0</text>
<text x="226" y="216.15" font-size="6.83" text-anchor="end" fill="#111" textLength="8.48" lengthAdjust="spacingAndGlyphs">0.8</text>
<text x="226" y="237.85" font-size="6.83" text-anchor="end" fill="#111" textLength="8.48" lengthAdjust="spacingAndGlyphs">0.6</text>
<text x="226" y="259.55" font-size="6.83" text-anchor="end" fill="#111" textLength="8.48" lengthAdjust="spacingAndGlyphs">0.4</text>
<text x="226" y="281.25" font-size="6.83" text-anchor="end" fill="#111" textLength="8.48" lengthAdjust="spacingAndGlyphs">0.2</text>
<text x="226" y="302.95" font-size="6.83" text-anchor="end" fill="#111" textLength="8.48" lengthAdjust="spacingAndGlyphs">0.0</text>
<line x1="227.8" y1="300.5" x2="351.9" y2="300.5" stroke="#2a2a2a" stroke-width="1.1"/>
<text transform="translate(208.87 245.1) rotate(-90)" x="0" y="0" font-size="6.9" text-anchor="middle" textLength="67.5" lengthAdjust="spacingAndGlyphs">Tumor wet weight (g)</text>
<line x1="256.8" y1="241.9" x2="256.8" y2="249.9" stroke="#1d0fb0" stroke-width="0.8"/>
<line x1="251.6" y1="241.9" x2="262" y2="241.9" stroke="#1d0fb0" stroke-width="0.8"/>
<line x1="251.6" y1="249.9" x2="262" y2="249.9" stroke="#1d0fb0" stroke-width="0.8"/>
<line x1="246.3" y1="245.9" x2="267.3" y2="245.9" stroke="#1d0fb0" stroke-width="1"/>
<line x1="290.7" y1="233.6" x2="290.7" y2="238.8" stroke="#d5111f" stroke-width="0.8"/>
<line x1="285.2" y1="233.6" x2="296.2" y2="233.6" stroke="#d5111f" stroke-width="0.8"/>
<line x1="285.2" y1="238.8" x2="296.2" y2="238.8" stroke="#d5111f" stroke-width="0.8"/>
<line x1="279.2" y1="236.4" x2="302.2" y2="236.4" stroke="#d5111f" stroke-width="1"/>
<line x1="324.6" y1="284.01" x2="324.6" y2="286.61" stroke="#2ddc2d" stroke-width="0.8"/>
<line x1="319.6" y1="284.01" x2="329.6" y2="284.01" stroke="#2ddc2d" stroke-width="0.8"/>
<line x1="319.6" y1="286.61" x2="329.6" y2="286.61" stroke="#2ddc2d" stroke-width="0.8"/>
<line x1="314.6" y1="285.31" x2="334.6" y2="285.31" stroke="#2ddc2d" stroke-width="1"/>
<circle cx="256.8" cy="206.9" r="2" fill="#1d0fb0"/>
<circle cx="256.8" cy="214" r="2" fill="#1d0fb0"/>
<circle cx="256.8" cy="221.2" r="2" fill="#1d0fb0"/>
<circle cx="256.8" cy="227.6" r="2" fill="#1d0fb0"/>
<circle cx="256.8" cy="232.1" r="2" fill="#1d0fb0"/>
<circle cx="252.1" cy="235.6" r="2" fill="#1d0fb0"/>
<circle cx="261.3" cy="235.6" r="2" fill="#1d0fb0"/>
<circle cx="256.8" cy="238.5" r="2" fill="#1d0fb0"/>
<circle cx="251.6" cy="241.1" r="2" fill="#1d0fb0"/>
<circle cx="256.8" cy="242" r="2" fill="#1d0fb0"/>
<circle cx="261.3" cy="241.1" r="2" fill="#1d0fb0"/>
<circle cx="246.9" cy="247.2" r="2" fill="#1d0fb0"/>
<circle cx="252.1" cy="246" r="2" fill="#1d0fb0"/>
<circle cx="256.8" cy="244.9" r="2" fill="#1d0fb0"/>
<circle cx="261.3" cy="246" r="2" fill="#1d0fb0"/>
<circle cx="266" cy="245.4" r="2" fill="#1d0fb0"/>
<circle cx="266" cy="249.8" r="2" fill="#1d0fb0"/>
<circle cx="246.9" cy="255.8" r="2" fill="#1d0fb0"/>
<circle cx="256.8" cy="257" r="2" fill="#1d0fb0"/>
<circle cx="266" cy="258.4" r="2" fill="#1d0fb0"/>
<circle cx="246.9" cy="261.5" r="2" fill="#1d0fb0"/>
<circle cx="256.4" cy="268" r="2" fill="#1d0fb0"/>
<circle cx="260.2" cy="272.4" r="2" fill="#1d0fb0"/>
<circle cx="252.8" cy="274.8" r="2" fill="#1d0fb0"/>
<circle cx="256.4" cy="283.3" r="2" fill="#1d0fb0"/>
<rect x="288.4" y="194.7" width="3.6" height="3.6" fill="#d5111f"/>
<rect x="292.2" y="199.2" width="3.6" height="3.6" fill="#d5111f"/>
<rect x="284.6" y="202.1" width="3.6" height="3.6" fill="#d5111f"/>
<rect x="288.4" y="210.8" width="3.6" height="3.6" fill="#d5111f"/>
<rect x="279.2" y="222.9" width="3.6" height="3.6" fill="#d5111f"/>
<rect x="285.2" y="221.7" width="3.6" height="3.6" fill="#d5111f"/>
<rect x="291.5" y="225" width="3.6" height="3.6" fill="#d5111f"/>
<rect x="297.9" y="225" width="3.6" height="3.6" fill="#d5111f"/>
<rect x="279.2" y="228.4" width="3.6" height="3.6" fill="#d5111f"/>
<rect x="288.4" y="233.3" width="3.6" height="3.6" fill="#d5111f"/>
<rect x="279.2" y="242.8" width="3.6" height="3.6" fill="#d5111f"/>
<rect x="282.8" y="239.3" width="3.6" height="3.6" fill="#d5111f"/>
<rect x="288.4" y="237.6" width="3.6" height="3.6" fill="#d5111f"/>
<rect x="293.2" y="239.3" width="3.6" height="3.6" fill="#d5111f"/>
<rect x="297.9" y="239.3" width="3.6" height="3.6" fill="#d5111f"/>
<rect x="282.8" y="245.4" width="3.6" height="3.6" fill="#d5111f"/>
<rect x="288.4" y="242.8" width="3.6" height="3.6" fill="#d5111f"/>
<rect x="293.2" y="242.8" width="3.6" height="3.6" fill="#d5111f"/>
<rect x="297.9" y="244.5" width="3.6" height="3.6" fill="#d5111f"/>
<rect x="279.2" y="248.8" width="3.6" height="3.6" fill="#d5111f"/>
<rect x="286.6" y="248" width="3.6" height="3.6" fill="#d5111f"/>
<rect x="293.2" y="248" width="3.6" height="3.6" fill="#d5111f"/>
<rect x="297.9" y="248.8" width="3.6" height="3.6" fill="#d5111f"/>
<rect x="293.9" y="251.4" width="3.6" height="3.6" fill="#d5111f"/>
<rect x="288.2" y="258.9" width="3.6" height="3.6" fill="#d5111f"/>
<rect x="288.2" y="268.3" width="3.6" height="3.6" fill="#d5111f"/>
<path d="M325.9 276.89L327.85 280.4L323.95 280.4Z" fill="#22ec22"/>
<path d="M329.6 276.09L331.55 279.6L327.65 279.6Z" fill="#22ec22"/>
<path d="M313.8 280.19L315.75 283.7L311.85 283.7Z" fill="#22ec22"/>
<path d="M318.6 280.19L320.55 283.7L316.65 283.7Z" fill="#22ec22"/>
<path d="M322.3 280.39L324.25 283.9L320.35 283.9Z" fill="#22ec22"/>
<path d="M329.2 280.29L331.15 283.8L327.25 283.8Z" fill="#22ec22"/>
<path d="M333.3 279.99L335.25 283.5L331.35 283.5Z" fill="#22ec22"/>
<path d="M314.5 282.69L316.45 286.2L312.55 286.2Z" fill="#22ec22"/>
<path d="M317.5 282.89L319.45 286.4L315.55 286.4Z" fill="#22ec22"/>
<path d="M320.8 282.59L322.75 286.1L318.85 286.1Z" fill="#22ec22"/>
<path d="M324.5 282.89L326.45 286.4L322.55 286.4Z" fill="#22ec22"/>
<path d="M327.5 282.69L329.45 286.2L325.55 286.2Z" fill="#22ec22"/>
<path d="M331 282.99L332.95 286.5L329.05 286.5Z" fill="#22ec22"/>
<path d="M334.8 282.69L336.75 286.2L332.85 286.2Z" fill="#22ec22"/>
<path d="M315 284.89L316.95 288.4L313.05 288.4Z" fill="#22ec22"/>
<path d="M319 285.09L320.95 288.6L317.05 288.6Z" fill="#22ec22"/>
<path d="M326 284.89L327.95 288.4L324.05 288.4Z" fill="#22ec22"/>
<path d="M333.4 285.49L335.35 289L331.45 289Z" fill="#22ec22"/>
<path d="M318.7 287.39L320.65 290.9L316.75 290.9Z" fill="#22ec22"/>
<path d="M314.6 290.39L316.55 293.9L312.65 293.9Z" fill="#22ec22"/>
<path d="M323.8 290.39L325.75 293.9L321.85 293.9Z" fill="#22ec22"/>
<path d="M328.5 289.19L330.45 292.7L326.55 292.7Z" fill="#22ec22"/>
<path d="M333.1 290.39L335.05 293.9L331.15 293.9Z" fill="#22ec22"/>
<path d="M327.9 292.49L329.85 296L325.95 296Z" fill="#22ec22"/>
<path d="M320.1 294.69L322.05 298.2L318.15 298.2Z" fill="#22ec22"/>
<text x="256.7" y="191.11" font-size="6.16" text-anchor="middle" fill="#111" textLength="10.9" lengthAdjust="spacingAndGlyphs">0.50</text>
<text x="290.7" y="191.11" font-size="6.16" text-anchor="middle" fill="#111" textLength="10.9" lengthAdjust="spacingAndGlyphs">0.59</text>
<text x="324.3" y="272.01" font-size="6.16" text-anchor="middle" fill="#111" textLength="10.9" lengthAdjust="spacingAndGlyphs">0.14</text>
<line x1="257" y1="175" x2="327.4" y2="175" stroke="#383838" stroke-width="1"/>
<line x1="257" y1="173.5" x2="257" y2="176.5" stroke="#383838" stroke-width="0.9"/>
<line x1="327.4" y1="173.5" x2="327.4" y2="176.5" stroke="#383838" stroke-width="0.9"/>
<line x1="294" y1="181.4" x2="327.4" y2="181.4" stroke="#383838" stroke-width="1"/>
<line x1="294" y1="179.9" x2="294" y2="182.9" stroke="#383838" stroke-width="0.9"/>
<line x1="327.4" y1="179.9" x2="327.4" y2="182.9" stroke="#383838" stroke-width="0.9"/>
<text x="291.9" y="172.16" font-size="5.52" text-anchor="middle" fill="#111" style="stroke-width:0.18px">****</text>
<text x="310.2" y="181.19" font-size="5.78" text-anchor="middle" fill="#111" style="stroke-width:0.18px">****</text>
<circle cx="321.3" cy="215" r="2" fill="#1d0fb0"/>
<text x="328.1" y="217.66" font-size="7.44" style="font-weight:normal;stroke-width:0.1px;" fill="#1a1a1a" textLength="19.19" lengthAdjust="spacingAndGlyphs">Vehicle</text>
<rect x="319.5" y="220.5" width="3.6" height="3.6" fill="#d5111f"/>
<text x="328.1" y="224.96" font-size="7.44" style="font-weight:normal;stroke-width:0.1px;" fill="#1a1a1a" textLength="25.46" lengthAdjust="spacingAndGlyphs">Paclitaxel</text>
<path d="M321.3 228.14L323.3 231.74L319.3 231.74Z" fill="#3ad83a"/>
<text x="328.1" y="232.96" font-size="7.44" style="font-weight:normal;stroke-width:0.1px;" fill="#1a1a1a" textLength="27.23" lengthAdjust="spacingAndGlyphs">VERU 111</text>
<text x="383.6" y="159.5" font-size="16">F</text>
<defs>
<linearGradient id="pg" x1="0" y1="0" x2="1" y2="0">
<stop offset="0" stop-color="#c6cbc8"/><stop offset="0.2" stop-color="#d2d6d3"/><stop offset="0.5" stop-color="#dfe2e0"/><stop offset="0.8" stop-color="#d1d5d2"/><stop offset="1" stop-color="#c5cac7"/>
</linearGradient>
<linearGradient id="pv" x1="0" y1="0" x2="0" y2="1">
<stop offset="0" stop-color="#ffffff" stop-opacity="0.45"/><stop offset="0.35" stop-color="#ffffff" stop-opacity="0"/><stop offset="1" stop-color="#9aa09c" stop-opacity="0.25"/>
</linearGradient>
<radialGradient id="tg" cx="0.45" cy="0.45" r="0.62">
<stop offset="0" stop-color="#dc3a22"/><stop offset="0.55" stop-color="#c82a1a"/><stop offset="1" stop-color="#962a1e"/>
</radialGradient>
<radialGradient id="tg2" cx="0.5" cy="0.55" r="0.62">
<stop offset="0" stop-color="#de6448"/><stop offset="0.45" stop-color="#cc4430"/><stop offset="1" stop-color="#9a2c20"/>
</radialGradient>
<radialGradient id="mot" cx="0.5" cy="0.5" r="0.5">
<stop offset="0" stop-color="#ffffff" stop-opacity="0.5"/><stop offset="1" stop-color="#ffffff" stop-opacity="0"/>
</radialGradient>
<radialGradient id="mot2" cx="0.5" cy="0.5" r="0.5">
<stop offset="0" stop-color="#a8b4ae" stop-opacity="0.45"/><stop offset="1" stop-color="#a8b4ae" stop-opacity="0"/>
</radialGradient>
<radialGradient id="halo" cx="0.5" cy="0.5" r="0.5">
<stop offset="0.55" stop-color="#f2c4bc" stop-opacity="0.9"/><stop offset="1" stop-color="#f2c4bc" stop-opacity="0"/>
</radialGradient>
</defs>
<rect x="407.6" y="179" width="51.2" height="33.4" fill="#f4f5f4"/>
<rect x="409.1" y="181.4" width="48.7" height="3.4" fill="#c4c7c5"/>
<line x1="409.8" y1="181.4" x2="409.8" y2="184.6" stroke="#7a7d7b" stroke-width="0.35"/>
<line x1="410.78" y1="181.4" x2="410.78" y2="183.2" stroke="#7a7d7b" stroke-width="0.35"/>
<line x1="411.76" y1="181.4" x2="411.76" y2="183.2" stroke="#7a7d7b" stroke-width="0.35"/>
<line x1="412.74" y1="181.4" x2="412.74" y2="183.2" stroke="#7a7d7b" stroke-width="0.35"/>
<line x1="413.72" y1="181.4" x2="413.72" y2="183.2" stroke="#7a7d7b" stroke-width="0.35"/>
<line x1="414.7" y1="181.4" x2="414.7" y2="184.6" stroke="#7a7d7b" stroke-width="0.35"/>
<line x1="415.68" y1="181.4" x2="415.68" y2="183.2" stroke="#7a7d7b" stroke-width="0.35"/>
<line x1="416.66" y1="181.4" x2="416.66" y2="183.2" stroke="#7a7d7b" stroke-width="0.35"/>
<line x1="417.64" y1="181.4" x2="417.64" y2="183.2" stroke="#7a7d7b" stroke-width="0.35"/>
<line x1="418.62" y1="181.4" x2="418.62" y2="183.2" stroke="#7a7d7b" stroke-width="0.35"/>
<line x1="419.6" y1="181.4" x2="419.6" y2="184.6" stroke="#7a7d7b" stroke-width="0.35"/>
<line x1="420.58" y1="181.4" x2="420.58" y2="183.2" stroke="#7a7d7b" stroke-width="0.35"/>
<line x1="421.56" y1="181.4" x2="421.56" y2="183.2" stroke="#7a7d7b" stroke-width="0.35"/>
<line x1="422.54" y1="181.4" x2="422.54" y2="183.2" stroke="#7a7d7b" stroke-width="0.35"/>
<line x1="423.52" y1="181.4" x2="423.52" y2="183.2" stroke="#7a7d7b" stroke-width="0.35"/>
<line x1="424.5" y1="181.4" x2="424.5" y2="184.6" stroke="#7a7d7b" stroke-width="0.35"/>
<line x1="425.48" y1="181.4" x2="425.48" y2="183.2" stroke="#7a7d7b" stroke-width="0.35"/>
<line x1="426.46" y1="181.4" x2="426.46" y2="183.2" stroke="#7a7d7b" stroke-width="0.35"/>
<line x1="427.44" y1="181.4" x2="427.44" y2="183.2" stroke="#7a7d7b" stroke-width="0.35"/>
<line x1="428.42" y1="181.4" x2="428.42" y2="183.2" stroke="#7a7d7b" stroke-width="0.35"/>
<line x1="429.4" y1="181.4" x2="429.4" y2="184.6" stroke="#7a7d7b" stroke-width="0.35"/>
<line x1="430.38" y1="181.4" x2="430.38" y2="183.2" stroke="#7a7d7b" stroke-width="0.35"/>
<line x1="431.36" y1="181.4" x2="431.36" y2="183.2" stroke="#7a7d7b" stroke-width="0.35"/>
<line x1="432.34" y1="181.4" x2="432.34" y2="183.2" stroke="#7a7d7b" stroke-width="0.35"/>
<line x1="433.32" y1="181.4" x2="433.32" y2="183.2" stroke="#7a7d7b" stroke-width="0.35"/>
<line x1="434.3" y1="181.4" x2="434.3" y2="184.6" stroke="#7a7d7b" stroke-width="0.35"/>
<line x1="435.28" y1="181.4" x2="435.28" y2="183.2" stroke="#7a7d7b" stroke-width="0.35"/>
<line x1="436.26" y1="181.4" x2="436.26" y2="183.2" stroke="#7a7d7b" stroke-width="0.35"/>
<line x1="437.24" y1="181.4" x2="437.24" y2="183.2" stroke="#7a7d7b" stroke-width="0.35"/>
<line x1="438.22" y1="181.4" x2="438.22" y2="183.2" stroke="#7a7d7b" stroke-width="0.35"/>
<line x1="439.2" y1="181.4" x2="439.2" y2="184.6" stroke="#7a7d7b" stroke-width="0.35"/>
<line x1="440.18" y1="181.4" x2="440.18" y2="183.2" stroke="#7a7d7b" stroke-width="0.35"/>
<line x1="441.16" y1="181.4" x2="441.16" y2="183.2" stroke="#7a7d7b" stroke-width="0.35"/>
<line x1="442.14" y1="181.4" x2="442.14" y2="183.2" stroke="#7a7d7b" stroke-width="0.35"/>
<line x1="443.12" y1="181.4" x2="443.12" y2="183.2" stroke="#7a7d7b" stroke-width="0.35"/>
<line x1="444.1" y1="181.4" x2="444.1" y2="184.6" stroke="#7a7d7b" stroke-width="0.35"/>
<line x1="445.08" y1="181.4" x2="445.08" y2="183.2" stroke="#7a7d7b" stroke-width="0.35"/>
<line x1="446.06" y1="181.4" x2="446.06" y2="183.2" stroke="#7a7d7b" stroke-width="0.35"/>
<line x1="447.04" y1="181.4" x2="447.04" y2="183.2" stroke="#7a7d7b" stroke-width="0.35"/>
<line x1="448.02" y1="181.4" x2="448.02" y2="183.2" stroke="#7a7d7b" stroke-width="0.35"/>
<line x1="449" y1="181.4" x2="449" y2="184.6" stroke="#7a7d7b" stroke-width="0.35"/>
<line x1="449.98" y1="181.4" x2="449.98" y2="183.2" stroke="#7a7d7b" stroke-width="0.35"/>
<line x1="450.96" y1="181.4" x2="450.96" y2="183.2" stroke="#7a7d7b" stroke-width="0.35"/>
<line x1="451.94" y1="181.4" x2="451.94" y2="183.2" stroke="#7a7d7b" stroke-width="0.35"/>
<line x1="452.92" y1="181.4" x2="452.92" y2="183.2" stroke="#7a7d7b" stroke-width="0.35"/>
<line x1="453.9" y1="181.4" x2="453.9" y2="184.6" stroke="#7a7d7b" stroke-width="0.35"/>
<line x1="454.88" y1="181.4" x2="454.88" y2="183.2" stroke="#7a7d7b" stroke-width="0.35"/>
<line x1="455.86" y1="181.4" x2="455.86" y2="183.2" stroke="#7a7d7b" stroke-width="0.35"/>
<line x1="456.84" y1="181.4" x2="456.84" y2="183.2" stroke="#7a7d7b" stroke-width="0.35"/>
<text x="413.1" y="181.3" font-size="2.6" text-anchor="middle" fill="#333" style="stroke-width:0.1px">cm</text>
<text x="420.8" y="181.3" font-size="2.6" text-anchor="middle" fill="#333" style="stroke-width:0.1px">1</text>
<text x="430.4" y="181.3" font-size="2.6" text-anchor="middle" fill="#333" style="stroke-width:0.1px">2</text>
<text x="440.6" y="181.3" font-size="2.6" text-anchor="middle" fill="#333" style="stroke-width:0.1px">3</text>
<text x="450.3" y="181.3" font-size="2.6" text-anchor="middle" fill="#333" style="stroke-width:0.1px">4</text>
<line x1="425.6" y1="179.8" x2="425.6" y2="181.4" stroke="#555" stroke-width="0.4"/>
<line x1="435.9" y1="179.8" x2="435.9" y2="181.4" stroke="#555" stroke-width="0.4"/>
<line x1="445.6" y1="179.8" x2="445.6" y2="181.4" stroke="#555" stroke-width="0.4"/>
<rect x="407.6" y="185.4" width="51.2" height="27" fill="url(#pg)"/>
<rect x="407.6" y="185.4" width="51.2" height="27" fill="url(#pv)"/>
<ellipse cx="451.35" cy="192.24" rx="6.3" ry="2.18" fill="url(#mot2)"/>
<ellipse cx="430.66" cy="189.03" rx="6.24" ry="4.92" fill="url(#mot)"/>
<ellipse cx="448.98" cy="193.21" rx="4.25" ry="3.5" fill="url(#mot)"/>
<ellipse cx="425.52" cy="191.5" rx="5.47" ry="2.78" fill="url(#mot)"/>
<ellipse cx="419.4" cy="194.51" rx="6.06" ry="4.29" fill="url(#mot)"/>
<ellipse cx="448.36" cy="204.43" rx="5.13" ry="3.77" fill="url(#mot)"/>
<ellipse cx="454.16" cy="198.32" rx="3.46" ry="4.44" fill="url(#mot)"/>
<ellipse cx="453.56" cy="189.89" rx="5.25" ry="2.52" fill="url(#mot)"/>
<ellipse cx="449.54" cy="205.23" rx="3.5" ry="3.58" fill="url(#mot)"/>
<ellipse cx="416.4" cy="199.8" rx="7.29" ry="11.46" fill="url(#halo)"/>
<ellipse cx="416.4" cy="199.8" rx="4.7" ry="7.9" fill="url(#tg)"/>
<ellipse cx="444" cy="200.3" rx="7.6" ry="11.02" fill="url(#halo)"/>
<ellipse cx="444" cy="200.3" rx="4.9" ry="7.6" fill="url(#tg2)"/>
<rect x="408" y="223.6" width="50.3" height="32.4" fill="#f4f5f4"/>
<rect x="409.5" y="226" width="47.8" height="3.4" fill="#c4c7c5"/>
<line x1="410.2" y1="226" x2="410.2" y2="229.2" stroke="#7a7d7b" stroke-width="0.35"/>
<line x1="411.18" y1="226" x2="411.18" y2="227.8" stroke="#7a7d7b" stroke-width="0.35"/>
<line x1="412.16" y1="226" x2="412.16" y2="227.8" stroke="#7a7d7b" stroke-width="0.35"/>
<line x1="413.14" y1="226" x2="413.14" y2="227.8" stroke="#7a7d7b" stroke-width="0.35"/>
<line x1="414.12" y1="226" x2="414.12" y2="227.8" stroke="#7a7d7b" stroke-width="0.35"/>
<line x1="415.1" y1="226" x2="415.1" y2="229.2" stroke="#7a7d7b" stroke-width="0.35"/>
<line x1="416.08" y1="226" x2="416.08" y2="227.8" stroke="#7a7d7b" stroke-width="0.35"/>
<line x1="417.06" y1="226" x2="417.06" y2="227.8" stroke="#7a7d7b" stroke-width="0.35"/>
<line x1="418.04" y1="226" x2="418.04" y2="227.8" stroke="#7a7d7b" stroke-width="0.35"/>
<line x1="419.02" y1="226" x2="419.02" y2="227.8" stroke="#7a7d7b" stroke-width="0.35"/>
<line x1="420" y1="226" x2="420" y2="229.2" stroke="#7a7d7b" stroke-width="0.35"/>
<line x1="420.98" y1="226" x2="420.98" y2="227.8" stroke="#7a7d7b" stroke-width="0.35"/>
<line x1="421.96" y1="226" x2="421.96" y2="227.8" stroke="#7a7d7b" stroke-width="0.35"/>
<line x1="422.94" y1="226" x2="422.94" y2="227.8" stroke="#7a7d7b" stroke-width="0.35"/>
<line x1="423.92" y1="226" x2="423.92" y2="227.8" stroke="#7a7d7b" stroke-width="0.35"/>
<line x1="424.9" y1="226" x2="424.9" y2="229.2" stroke="#7a7d7b" stroke-width="0.35"/>
<line x1="425.88" y1="226" x2="425.88" y2="227.8" stroke="#7a7d7b" stroke-width="0.35"/>
<line x1="426.86" y1="226" x2="426.86" y2="227.8" stroke="#7a7d7b" stroke-width="0.35"/>
<line x1="427.84" y1="226" x2="427.84" y2="227.8" stroke="#7a7d7b" stroke-width="0.35"/>
<line x1="428.82" y1="226" x2="428.82" y2="227.8" stroke="#7a7d7b" stroke-width="0.35"/>
<line x1="429.8" y1="226" x2="429.8" y2="229.2" stroke="#7a7d7b" stroke-width="0.35"/>
<line x1="430.78" y1="226" x2="430.78" y2="227.8" stroke="#7a7d7b" stroke-width="0.35"/>
<line x1="431.76" y1="226" x2="431.76" y2="227.8" stroke="#7a7d7b" stroke-width="0.35"/>
<line x1="432.74" y1="226" x2="432.74" y2="227.8" stroke="#7a7d7b" stroke-width="0.35"/>
<line x1="433.72" y1="226" x2="433.72" y2="227.8" stroke="#7a7d7b" stroke-width="0.35"/>
<line x1="434.7" y1="226" x2="434.7" y2="229.2" stroke="#7a7d7b" stroke-width="0.35"/>
<line x1="435.68" y1="226" x2="435.68" y2="227.8" stroke="#7a7d7b" stroke-width="0.35"/>
<line x1="436.66" y1="226" x2="436.66" y2="227.8" stroke="#7a7d7b" stroke-width="0.35"/>
<line x1="437.64" y1="226" x2="437.64" y2="227.8" stroke="#7a7d7b" stroke-width="0.35"/>
<line x1="438.62" y1="226" x2="438.62" y2="227.8" stroke="#7a7d7b" stroke-width="0.35"/>
<line x1="439.6" y1="226" x2="439.6" y2="229.2" stroke="#7a7d7b" stroke-width="0.35"/>
<line x1="440.58" y1="226" x2="440.58" y2="227.8" stroke="#7a7d7b" stroke-width="0.35"/>
<line x1="441.56" y1="226" x2="441.56" y2="227.8" stroke="#7a7d7b" stroke-width="0.35"/>
<line x1="442.54" y1="226" x2="442.54" y2="227.8" stroke="#7a7d7b" stroke-width="0.35"/>
<line x1="443.52" y1="226" x2="443.52" y2="227.8" stroke="#7a7d7b" stroke-width="0.35"/>
<line x1="444.5" y1="226" x2="444.5" y2="229.2" stroke="#7a7d7b" stroke-width="0.35"/>
<line x1="445.48" y1="226" x2="445.48" y2="227.8" stroke="#7a7d7b" stroke-width="0.35"/>
<line x1="446.46" y1="226" x2="446.46" y2="227.8" stroke="#7a7d7b" stroke-width="0.35"/>
<line x1="447.44" y1="226" x2="447.44" y2="227.8" stroke="#7a7d7b" stroke-width="0.35"/>
<line x1="448.42" y1="226" x2="448.42" y2="227.8" stroke="#7a7d7b" stroke-width="0.35"/>
<line x1="449.4" y1="226" x2="449.4" y2="229.2" stroke="#7a7d7b" stroke-width="0.35"/>
<line x1="450.38" y1="226" x2="450.38" y2="227.8" stroke="#7a7d7b" stroke-width="0.35"/>
<line x1="451.36" y1="226" x2="451.36" y2="227.8" stroke="#7a7d7b" stroke-width="0.35"/>
<line x1="452.34" y1="226" x2="452.34" y2="227.8" stroke="#7a7d7b" stroke-width="0.35"/>
<line x1="453.32" y1="226" x2="453.32" y2="227.8" stroke="#7a7d7b" stroke-width="0.35"/>
<line x1="454.3" y1="226" x2="454.3" y2="229.2" stroke="#7a7d7b" stroke-width="0.35"/>
<line x1="455.28" y1="226" x2="455.28" y2="227.8" stroke="#7a7d7b" stroke-width="0.35"/>
<line x1="456.26" y1="226" x2="456.26" y2="227.8" stroke="#7a7d7b" stroke-width="0.35"/>
<text x="413.5" y="225.9" font-size="2.6" text-anchor="middle" fill="#333" style="stroke-width:0.1px">cm</text>
<text x="421.2" y="225.9" font-size="2.6" text-anchor="middle" fill="#333" style="stroke-width:0.1px">1</text>
<text x="430.8" y="225.9" font-size="2.6" text-anchor="middle" fill="#333" style="stroke-width:0.1px">2</text>
<text x="441" y="225.9" font-size="2.6" text-anchor="middle" fill="#333" style="stroke-width:0.1px">3</text>
<text x="450.7" y="225.9" font-size="2.6" text-anchor="middle" fill="#333" style="stroke-width:0.1px">4</text>
<line x1="426" y1="224.4" x2="426" y2="226" stroke="#555" stroke-width="0.4"/>
<line x1="436.3" y1="224.4" x2="436.3" y2="226" stroke="#555" stroke-width="0.4"/>
<line x1="446" y1="224.4" x2="446" y2="226" stroke="#555" stroke-width="0.4"/>
<rect x="408" y="230" width="50.3" height="26" fill="url(#pg)"/>
<rect x="408" y="230" width="50.3" height="26" fill="url(#pv)"/>
<ellipse cx="425.71" cy="241.57" rx="4.57" ry="3.6" fill="url(#mot)"/>
<ellipse cx="445.37" cy="243.5" rx="5.66" ry="4.33" fill="url(#mot2)"/>
<ellipse cx="453.78" cy="246.05" rx="6.64" ry="2.35" fill="url(#mot2)"/>
<ellipse cx="443.37" cy="238.28" rx="4.44" ry="4.26" fill="url(#mot)"/>
<ellipse cx="454.22" cy="240.71" rx="6.29" ry="4.44" fill="url(#mot2)"/>
<ellipse cx="422.63" cy="233.97" rx="5.59" ry="3.56" fill="url(#mot2)"/>
<ellipse cx="432.58" cy="233.72" rx="4.41" ry="3.64" fill="url(#mot2)"/>
<ellipse cx="451.34" cy="251.08" rx="5.3" ry="3.16" fill="url(#mot2)"/>
<ellipse cx="424.15" cy="247.95" rx="5" ry="3.72" fill="url(#mot)"/>
<ellipse cx="423" cy="247.2" rx="9.92" ry="11.02" fill="url(#halo)"/>
<path d="M416.6 247.2 C416.6 237.7 428.76 238.08 429.4 246.44 C425.56 247.96 426.84 254.04 423 254.8 C417.88 254.8 416.6 251 416.6 247.2Z" fill="url(#tg)"/>
<ellipse cx="445.5" cy="245.3" rx="8.37" ry="8.99" fill="url(#halo)"/>
<ellipse cx="445.5" cy="245.3" rx="5.4" ry="6.2" fill="url(#tg2)"/>
<rect x="409" y="265.2" width="48.5" height="31.6" fill="#f4f5f4"/>
<rect x="410.5" y="267.6" width="46" height="3.4" fill="#c4c7c5"/>
<line x1="411.2" y1="267.6" x2="411.2" y2="270.8" stroke="#7a7d7b" stroke-width="0.35"/>
<line x1="412.18" y1="267.6" x2="412.18" y2="269.4" stroke="#7a7d7b" stroke-width="0.35"/>
<line x1="413.16" y1="267.6" x2="413.16" y2="269.4" stroke="#7a7d7b" stroke-width="0.35"/>
<line x1="414.14" y1="267.6" x2="414.14" y2="269.4" stroke="#7a7d7b" stroke-width="0.35"/>
<line x1="415.12" y1="267.6" x2="415.12" y2="269.4" stroke="#7a7d7b" stroke-width="0.35"/>
<line x1="416.1" y1="267.6" x2="416.1" y2="270.8" stroke="#7a7d7b" stroke-width="0.35"/>
<line x1="417.08" y1="267.6" x2="417.08" y2="269.4" stroke="#7a7d7b" stroke-width="0.35"/>
<line x1="418.06" y1="267.6" x2="418.06" y2="269.4" stroke="#7a7d7b" stroke-width="0.35"/>
<line x1="419.04" y1="267.6" x2="419.04" y2="269.4" stroke="#7a7d7b" stroke-width="0.35"/>
<line x1="420.02" y1="267.6" x2="420.02" y2="269.4" stroke="#7a7d7b" stroke-width="0.35"/>
<line x1="421" y1="267.6" x2="421" y2="270.8" stroke="#7a7d7b" stroke-width="0.35"/>
<line x1="421.98" y1="267.6" x2="421.98" y2="269.4" stroke="#7a7d7b" stroke-width="0.35"/>
<line x1="422.96" y1="267.6" x2="422.96" y2="269.4" stroke="#7a7d7b" stroke-width="0.35"/>
<line x1="423.94" y1="267.6" x2="423.94" y2="269.4" stroke="#7a7d7b" stroke-width="0.35"/>
<line x1="424.92" y1="267.6" x2="424.92" y2="269.4" stroke="#7a7d7b" stroke-width="0.35"/>
<line x1="425.9" y1="267.6" x2="425.9" y2="270.8" stroke="#7a7d7b" stroke-width="0.35"/>
<line x1="426.88" y1="267.6" x2="426.88" y2="269.4" stroke="#7a7d7b" stroke-width="0.35"/>
<line x1="427.86" y1="267.6" x2="427.86" y2="269.4" stroke="#7a7d7b" stroke-width="0.35"/>
<line x1="428.84" y1="267.6" x2="428.84" y2="269.4" stroke="#7a7d7b" stroke-width="0.35"/>
<line x1="429.82" y1="267.6" x2="429.82" y2="269.4" stroke="#7a7d7b" stroke-width="0.35"/>
<line x1="430.8" y1="267.6" x2="430.8" y2="270.8" stroke="#7a7d7b" stroke-width="0.35"/>
<line x1="431.78" y1="267.6" x2="431.78" y2="269.4" stroke="#7a7d7b" stroke-width="0.35"/>
<line x1="432.76" y1="267.6" x2="432.76" y2="269.4" stroke="#7a7d7b" stroke-width="0.35"/>
<line x1="433.74" y1="267.6" x2="433.74" y2="269.4" stroke="#7a7d7b" stroke-width="0.35"/>
<line x1="434.72" y1="267.6" x2="434.72" y2="269.4" stroke="#7a7d7b" stroke-width="0.35"/>
<line x1="435.7" y1="267.6" x2="435.7" y2="270.8" stroke="#7a7d7b" stroke-width="0.35"/>
<line x1="436.68" y1="267.6" x2="436.68" y2="269.4" stroke="#7a7d7b" stroke-width="0.35"/>
<line x1="437.66" y1="267.6" x2="437.66" y2="269.4" stroke="#7a7d7b" stroke-width="0.35"/>
<line x1="438.64" y1="267.6" x2="438.64" y2="269.4" stroke="#7a7d7b" stroke-width="0.35"/>
<line x1="439.62" y1="267.6" x2="439.62" y2="269.4" stroke="#7a7d7b" stroke-width="0.35"/>
<line x1="440.6" y1="267.6" x2="440.6" y2="270.8" stroke="#7a7d7b" stroke-width="0.35"/>
<line x1="441.58" y1="267.6" x2="441.58" y2="269.4" stroke="#7a7d7b" stroke-width="0.35"/>
<line x1="442.56" y1="267.6" x2="442.56" y2="269.4" stroke="#7a7d7b" stroke-width="0.35"/>
<line x1="443.54" y1="267.6" x2="443.54" y2="269.4" stroke="#7a7d7b" stroke-width="0.35"/>
<line x1="444.52" y1="267.6" x2="444.52" y2="269.4" stroke="#7a7d7b" stroke-width="0.35"/>
<line x1="445.5" y1="267.6" x2="445.5" y2="270.8" stroke="#7a7d7b" stroke-width="0.35"/>
<line x1="446.48" y1="267.6" x2="446.48" y2="269.4" stroke="#7a7d7b" stroke-width="0.35"/>
<line x1="447.46" y1="267.6" x2="447.46" y2="269.4" stroke="#7a7d7b" stroke-width="0.35"/>
<line x1="448.44" y1="267.6" x2="448.44" y2="269.4" stroke="#7a7d7b" stroke-width="0.35"/>
<line x1="449.42" y1="267.6" x2="449.42" y2="269.4" stroke="#7a7d7b" stroke-width="0.35"/>
<line x1="450.4" y1="267.6" x2="450.4" y2="270.8" stroke="#7a7d7b" stroke-width="0.35"/>
<line x1="451.38" y1="267.6" x2="451.38" y2="269.4" stroke="#7a7d7b" stroke-width="0.35"/>
<line x1="452.36" y1="267.6" x2="452.36" y2="269.4" stroke="#7a7d7b" stroke-width="0.35"/>
<line x1="453.34" y1="267.6" x2="453.34" y2="269.4" stroke="#7a7d7b" stroke-width="0.35"/>
<line x1="454.32" y1="267.6" x2="454.32" y2="269.4" stroke="#7a7d7b" stroke-width="0.35"/>
<line x1="455.3" y1="267.6" x2="455.3" y2="270.8" stroke="#7a7d7b" stroke-width="0.35"/>
<line x1="456.28" y1="267.6" x2="456.28" y2="269.4" stroke="#7a7d7b" stroke-width="0.35"/>
<text x="414.5" y="267.5" font-size="2.6" text-anchor="middle" fill="#333" style="stroke-width:0.1px">cm</text>
<text x="422.2" y="267.5" font-size="2.6" text-anchor="middle" fill="#333" style="stroke-width:0.1px">1</text>
<text x="431.8" y="267.5" font-size="2.6" text-anchor="middle" fill="#333" style="stroke-width:0.1px">2</text>
<text x="442" y="267.5" font-size="2.6" text-anchor="middle" fill="#333" style="stroke-width:0.1px">3</text>
<text x="451.7" y="267.5" font-size="2.6" text-anchor="middle" fill="#333" style="stroke-width:0.1px">4</text>
<line x1="427" y1="266" x2="427" y2="267.6" stroke="#555" stroke-width="0.4"/>
<line x1="437.3" y1="266" x2="437.3" y2="267.6" stroke="#555" stroke-width="0.4"/>
<line x1="447" y1="266" x2="447" y2="267.6" stroke="#555" stroke-width="0.4"/>
<rect x="409" y="271.6" width="48.5" height="25.2" fill="url(#pg)"/>
<rect x="409" y="271.6" width="48.5" height="25.2" fill="url(#pv)"/>
<ellipse cx="446.4" cy="283.57" rx="4.26" ry="3.57" fill="url(#mot2)"/>
<ellipse cx="420.75" cy="278.62" rx="3.77" ry="4.66" fill="url(#mot)"/>
<ellipse cx="444.75" cy="275.08" rx="6.71" ry="3.22" fill="url(#mot)"/>
<ellipse cx="421.3" cy="283.6" rx="5.48" ry="2.25" fill="url(#mot)"/>
<ellipse cx="421.31" cy="282.18" rx="5.25" ry="3.32" fill="url(#mot)"/>
<ellipse cx="426.59" cy="279" rx="4.61" ry="2.35" fill="url(#mot2)"/>
<ellipse cx="444.59" cy="293.78" rx="5.49" ry="2.4" fill="url(#mot)"/>
<ellipse cx="433.52" cy="275.33" rx="6.48" ry="3.44" fill="url(#mot2)"/>
<ellipse cx="423.26" cy="290.21" rx="6.45" ry="4.28" fill="url(#mot)"/>
<ellipse cx="422.3" cy="284.7" rx="5.42" ry="6.09" fill="url(#halo)"/>
<ellipse cx="422.3" cy="284.7" rx="3.5" ry="4.2" fill="url(#tg2)"/>
<ellipse cx="442" cy="285" rx="6.04" ry="6.52" fill="url(#halo)"/>
<ellipse cx="442" cy="285" rx="3.9" ry="4.5" fill="url(#tg2)"/>
<text x="463.9" y="200.79" font-size="8.36" style="font-weight:normal;stroke-width:0.1px;" fill="#111" textLength="22.1" lengthAdjust="spacingAndGlyphs">Vehicle</text>
<text x="463.9" y="241.76" font-size="8.55" style="font-weight:normal;stroke-width:0.1px;" fill="#111" textLength="30" lengthAdjust="spacingAndGlyphs">Paclitaxel</text>
<text x="463.9" y="284.29" font-size="8.35" style="font-weight:normal;stroke-width:0.1px;" fill="#111" textLength="31.7" lengthAdjust="spacingAndGlyphs">VERU-111</text>
<text x="0.4" y="335.3" font-size="16">G</text>
<line x1="35.9" y1="361.2" x2="35.9" y2="452.81" stroke="#2a2a2a" stroke-width="1.1"/>
<line x1="33.7" y1="361.5" x2="35.9" y2="361.5" stroke="#2a2a2a" stroke-width="0.9"/>
<line x1="33.7" y1="391.77" x2="35.9" y2="391.77" stroke="#2a2a2a" stroke-width="0.9"/>
<line x1="33.7" y1="422.04" x2="35.9" y2="422.04" stroke="#2a2a2a" stroke-width="0.9"/>
<line x1="33.7" y1="452.31" x2="35.9" y2="452.31" stroke="#2a2a2a" stroke-width="0.9"/>
<text x="33" y="363.5" font-size="5.6" text-anchor="end" fill="#111">10<tspan font-size="3.47" dy="-2.35">8</tspan></text>
<text x="33" y="393.77" font-size="5.6" text-anchor="end" fill="#111">10<tspan font-size="3.47" dy="-2.35">7</tspan></text>
<text x="33" y="424.04" font-size="5.6" text-anchor="end" fill="#111">10<tspan font-size="3.47" dy="-2.35">6</tspan></text>
<text x="33" y="454.31" font-size="5.6" text-anchor="end" fill="#111">10<tspan font-size="3.47" dy="-2.35">5</tspan></text>
<line x1="35.4" y1="452.51" x2="147.9" y2="452.51" stroke="#2a2a2a" stroke-width="1.1"/>
<line x1="47.4" y1="452.31" x2="47.4" y2="454.11" stroke="#2a2a2a" stroke-width="0.8"/>
<text x="47.4" y="461.91" font-size="6.72" text-anchor="middle" fill="#111" textLength="3.34" lengthAdjust="spacingAndGlyphs">0</text>
<line x1="69.62" y1="452.31" x2="69.62" y2="454.11" stroke="#2a2a2a" stroke-width="0.8"/>
<text x="69.62" y="461.91" font-size="6.72" text-anchor="middle" fill="#111" textLength="3.34" lengthAdjust="spacingAndGlyphs">2</text>
<line x1="91.84" y1="452.31" x2="91.84" y2="454.11" stroke="#2a2a2a" stroke-width="0.8"/>
<text x="91.84" y="461.91" font-size="6.72" text-anchor="middle" fill="#111" textLength="3.34" lengthAdjust="spacingAndGlyphs">4</text>
<line x1="114.06" y1="452.31" x2="114.06" y2="454.11" stroke="#2a2a2a" stroke-width="0.8"/>
<text x="114.06" y="461.91" font-size="6.72" text-anchor="middle" fill="#111" textLength="3.34" lengthAdjust="spacingAndGlyphs">6</text>
<line x1="136.28" y1="452.31" x2="136.28" y2="454.11" stroke="#2a2a2a" stroke-width="0.8"/>
<text x="136.28" y="461.91" font-size="6.72" text-anchor="middle" fill="#111" textLength="3.34" lengthAdjust="spacingAndGlyphs">8</text>
<text x="92.5" y="474.34" font-size="7.08" text-anchor="middle" fill="#111" textLength="55" lengthAdjust="spacingAndGlyphs">Weeks on therapy</text>
<text transform="translate(21.43 406) rotate(-90)" x="0" y="0" font-size="8.46" text-anchor="middle" style="font-weight:normal;stroke-width:0.1px" textLength="49.3" lengthAdjust="spacingAndGlyphs">Total photon flux</text>
<text x="92.1" y="345.71" font-size="6.72" text-anchor="middle" fill="#111" textLength="75" lengthAdjust="spacingAndGlyphs">AxLN, <tspan font-style="italic">in vivo</tspan> bio-imaging</text>
<line x1="46.3" y1="356.8" x2="137.7" y2="356.8" stroke="#4848d0" stroke-width="1" stroke-dasharray="1.0 0.8"/>
<line x1="46.3" y1="355" x2="46.3" y2="358.6" stroke="#4848d0" stroke-width="0.9"/>
<line x1="137.7" y1="355" x2="137.7" y2="358.6" stroke="#4848d0" stroke-width="0.9"/>
<line x1="46.3" y1="366.8" x2="137.7" y2="366.8" stroke="#e05858" stroke-width="1" stroke-dasharray="1.0 0.8"/>
<line x1="46.3" y1="365" x2="46.3" y2="368.6" stroke="#e05858" stroke-width="0.9"/>
<line x1="137.7" y1="365" x2="137.7" y2="368.6" stroke="#e05858" stroke-width="0.9"/>
<line x1="46.3" y1="387" x2="137.7" y2="387" stroke="#8fd88f" stroke-width="1" stroke-dasharray="1.0 0.8"/>
<line x1="46.3" y1="385.2" x2="46.3" y2="388.8" stroke="#8fd88f" stroke-width="0.9"/>
<line x1="137.7" y1="385.2" x2="137.7" y2="388.8" stroke="#8fd88f" stroke-width="0.9"/>
<text x="92.1" y="354.93" font-size="7.33" style="font-weight:normal;stroke-width:0.1px;" text-anchor="middle" fill="#1a1a1a" textLength="21.2" lengthAdjust="spacingAndGlyphs">100-fold</text>
<text x="91.9" y="364.75" font-size="7.69" style="font-weight:normal;stroke-width:0.1px;" text-anchor="middle" fill="#1a1a1a" textLength="18.8" lengthAdjust="spacingAndGlyphs">65-fold</text>
<text x="64.7" y="385.41" font-size="7.57" style="font-weight:normal;stroke-width:0.1px;" text-anchor="middle" fill="#1a1a1a" textLength="20.2" lengthAdjust="spacingAndGlyphs">3.1-fold</text>
<polyline points="47.4,413.6 69.62,407.2 91.84,395.6 114.06,394.8 136.28,398.6" fill="none" stroke="#30b030" stroke-width="1.2"/>
<line x1="47.4" y1="408" x2="47.4" y2="419" stroke="#2a8a2a" stroke-width="0.8"/>
<line x1="45.8" y1="408" x2="49" y2="408" stroke="#2a8a2a" stroke-width="0.8"/>
<line x1="45.8" y1="419" x2="49" y2="419" stroke="#2a8a2a" stroke-width="0.8"/>
<line x1="69.62" y1="404" x2="69.62" y2="410" stroke="#2a8a2a" stroke-width="0.8"/>
<line x1="68.02" y1="404" x2="71.22" y2="404" stroke="#2a8a2a" stroke-width="0.8"/>
<line x1="68.02" y1="410" x2="71.22" y2="410" stroke="#2a8a2a" stroke-width="0.8"/>
<line x1="91.84" y1="392" x2="91.84" y2="399" stroke="#2a8a2a" stroke-width="0.8"/>
<line x1="90.24" y1="392" x2="93.44" y2="392" stroke="#2a8a2a" stroke-width="0.8"/>
<line x1="90.24" y1="399" x2="93.44" y2="399" stroke="#2a8a2a" stroke-width="0.8"/>
<line x1="114.06" y1="393" x2="114.06" y2="397" stroke="#2a8a2a" stroke-width="0.8"/>
<line x1="112.46" y1="393" x2="115.66" y2="393" stroke="#2a8a2a" stroke-width="0.8"/>
<line x1="112.46" y1="397" x2="115.66" y2="397" stroke="#2a8a2a" stroke-width="0.8"/>
<line x1="136.28" y1="395.8" x2="136.28" y2="402" stroke="#2a8a2a" stroke-width="0.8"/>
<line x1="134.68" y1="395.8" x2="137.88" y2="395.8" stroke="#2a8a2a" stroke-width="0.8"/>
<line x1="134.68" y1="402" x2="137.88" y2="402" stroke="#2a8a2a" stroke-width="0.8"/>
<polyline points="47.4,433.3 69.62,401 91.84,384.5 114.06,377.3 136.28,372.8" fill="none" stroke="#3022b8" stroke-width="1.2"/>
<line x1="47.4" y1="421" x2="47.4" y2="444" stroke="#303090" stroke-width="0.8"/>
<line x1="45.8" y1="421" x2="49" y2="421" stroke="#303090" stroke-width="0.8"/>
<line x1="45.8" y1="444" x2="49" y2="444" stroke="#303090" stroke-width="0.8"/>
<line x1="69.62" y1="398" x2="69.62" y2="404" stroke="#303090" stroke-width="0.8"/>
<line x1="68.02" y1="398" x2="71.22" y2="398" stroke="#303090" stroke-width="0.8"/>
<line x1="68.02" y1="404" x2="71.22" y2="404" stroke="#303090" stroke-width="0.8"/>
<line x1="91.84" y1="381" x2="91.84" y2="388" stroke="#303090" stroke-width="0.8"/>
<line x1="90.24" y1="381" x2="93.44" y2="381" stroke="#303090" stroke-width="0.8"/>
<line x1="90.24" y1="388" x2="93.44" y2="388" stroke="#303090" stroke-width="0.8"/>
<line x1="114.06" y1="373" x2="114.06" y2="382" stroke="#303090" stroke-width="0.8"/>
<line x1="112.46" y1="373" x2="115.66" y2="373" stroke="#303090" stroke-width="0.8"/>
<line x1="112.46" y1="382" x2="115.66" y2="382" stroke="#303090" stroke-width="0.8"/>
<line x1="136.28" y1="369" x2="136.28" y2="376.5" stroke="#303090" stroke-width="0.8"/>
<line x1="134.68" y1="369" x2="137.88" y2="369" stroke="#303090" stroke-width="0.8"/>
<line x1="134.68" y1="376.5" x2="137.88" y2="376.5" stroke="#303090" stroke-width="0.8"/>
<polyline points="47.4,427.1 69.62,403.7 91.84,387.5 114.06,378.9 136.28,373.5" fill="none" stroke="#e0202c" stroke-width="1.2"/>
<line x1="47.4" y1="423" x2="47.4" y2="431" stroke="#c84050" stroke-width="0.8"/>
<line x1="45.8" y1="423" x2="49" y2="423" stroke="#c84050" stroke-width="0.8"/>
<line x1="45.8" y1="431" x2="49" y2="431" stroke="#c84050" stroke-width="0.8"/>
<line x1="69.62" y1="401" x2="69.62" y2="406" stroke="#c84050" stroke-width="0.8"/>
<line x1="68.02" y1="401" x2="71.22" y2="401" stroke="#c84050" stroke-width="0.8"/>
<line x1="68.02" y1="406" x2="71.22" y2="406" stroke="#c84050" stroke-width="0.8"/>
<line x1="91.84" y1="384" x2="91.84" y2="391" stroke="#c84050" stroke-width="0.8"/>
<line x1="90.24" y1="384" x2="93.44" y2="384" stroke="#c84050" stroke-width="0.8"/>
<line x1="90.24" y1="391" x2="93.44" y2="391" stroke="#c84050" stroke-width="0.8"/>
<line x1="114.06" y1="372" x2="114.06" y2="385" stroke="#c84050" stroke-width="0.8"/>
<line x1="112.46" y1="372" x2="115.66" y2="372" stroke="#c84050" stroke-width="0.8"/>
<line x1="112.46" y1="385" x2="115.66" y2="385" stroke="#c84050" stroke-width="0.8"/>
<line x1="136.28" y1="366" x2="136.28" y2="380" stroke="#c84050" stroke-width="0.8"/>
<line x1="134.68" y1="366" x2="137.88" y2="366" stroke="#c84050" stroke-width="0.8"/>
<line x1="134.68" y1="380" x2="137.88" y2="380" stroke="#c84050" stroke-width="0.8"/>
<path d="M47.4 411.44L49.4 415.04L45.4 415.04Z" fill="#1f8a1f"/>
<path d="M69.62 405.04L71.62 408.64L67.62 408.64Z" fill="#1f8a1f"/>
<path d="M91.84 393.44L93.84 397.04L89.84 397.04Z" fill="#1f8a1f"/>
<path d="M114.06 392.64L116.06 396.24L112.06 396.24Z" fill="#1f8a1f"/>
<path d="M136.28 396.44L138.28 400.04L134.28 400.04Z" fill="#1f8a1f"/>
<circle cx="47.4" cy="433.3" r="2.2" fill="#201c80"/>
<circle cx="69.62" cy="401" r="2.2" fill="#201c80"/>
<circle cx="91.84" cy="384.5" r="2.2" fill="#201c80"/>
<circle cx="114.06" cy="377.3" r="2.2" fill="#201c80"/>
<circle cx="136.28" cy="372.8" r="2.2" fill="#201c80"/>
<rect x="45.45" y="425.15" width="3.9" height="3.9" fill="#c8101c"/>
<rect x="67.67" y="401.75" width="3.9" height="3.9" fill="#c8101c"/>
<rect x="89.89" y="385.55" width="3.9" height="3.9" fill="#c8101c"/>
<rect x="112.11" y="376.95" width="3.9" height="3.9" fill="#c8101c"/>
<rect x="134.33" y="371.55" width="3.9" height="3.9" fill="#c8101c"/>
<line x1="153.2" y1="372.5" x2="153.2" y2="399.2" stroke="#444" stroke-width="0.8"/>
<line x1="143.2" y1="372.5" x2="153.2" y2="372.5" stroke="#444" stroke-width="0.8"/>
<line x1="141.5" y1="399.2" x2="153.2" y2="399.2" stroke="#444" stroke-width="0.8"/>
<text x="162" y="388.01" font-size="6.62" text-anchor="middle" fill="#111" style="stroke-width:0.18px">****</text>
<line x1="104" y1="418.6" x2="112.2" y2="418.6" stroke="#201c80" stroke-width="1"/>
<circle cx="108.1" cy="418.6" r="2" fill="#201c80"/>
<text x="114.3" y="421.4" font-size="7.83" style="font-weight:normal;stroke-width:0.1px;" fill="#1a1a1a" textLength="20.2" lengthAdjust="spacingAndGlyphs">Vehicle</text>
<line x1="104" y1="428.2" x2="112.2" y2="428.2" stroke="#d01020" stroke-width="1"/>
<circle cx="108.1" cy="428.2" r="2" fill="#d01020"/>
<text x="114.3" y="430.98" font-size="7.77" style="font-weight:normal;stroke-width:0.1px;" fill="#1a1a1a" textLength="26.6" lengthAdjust="spacingAndGlyphs">Paclitaxel</text>
<line x1="104" y1="438.4" x2="112.2" y2="438.4" stroke="#1f8a1f" stroke-width="1"/>
<path d="M108.1 436.35L110 439.77L106.2 439.77Z" fill="#1f8a1f"/>
<text x="114.3" y="441.2" font-size="7.83" style="font-weight:normal;stroke-width:0.1px;" fill="#1a1a1a" textLength="29" lengthAdjust="spacingAndGlyphs">VERU-111</text>
<text x="174.6" y="335.5" font-size="16">H</text>
<line x1="216.7" y1="359.1" x2="216.7" y2="455.4" stroke="#2a2a2a" stroke-width="1.1"/>
<line x1="214.5" y1="359.4" x2="216.7" y2="359.4" stroke="#2a2a2a" stroke-width="0.9"/>
<line x1="214.5" y1="378.5" x2="216.7" y2="378.5" stroke="#2a2a2a" stroke-width="0.9"/>
<line x1="214.5" y1="397.6" x2="216.7" y2="397.6" stroke="#2a2a2a" stroke-width="0.9"/>
<line x1="214.5" y1="416.7" x2="216.7" y2="416.7" stroke="#2a2a2a" stroke-width="0.9"/>
<line x1="214.5" y1="435.8" x2="216.7" y2="435.8" stroke="#2a2a2a" stroke-width="0.9"/>
<line x1="214.5" y1="454.9" x2="216.7" y2="454.9" stroke="#2a2a2a" stroke-width="0.9"/>
<text x="214.3" y="361.51" font-size="5.9" text-anchor="end" fill="#111">10<tspan font-size="3.66" dy="-2.48">9</tspan></text>
<text x="214.3" y="380.61" font-size="5.9" text-anchor="end" fill="#111">10<tspan font-size="3.66" dy="-2.48">8</tspan></text>
<text x="214.3" y="399.71" font-size="5.9" text-anchor="end" fill="#111">10<tspan font-size="3.66" dy="-2.48">7</tspan></text>
<text x="214.3" y="418.81" font-size="5.9" text-anchor="end" fill="#111">10<tspan font-size="3.66" dy="-2.48">6</tspan></text>
<text x="214.3" y="437.91" font-size="5.9" text-anchor="end" fill="#111">10<tspan font-size="3.66" dy="-2.48">5</tspan></text>
<text x="214.3" y="457.01" font-size="5.9" text-anchor="end" fill="#111">10<tspan font-size="3.66" dy="-2.48">4</tspan></text>
<line x1="216.2" y1="455.3" x2="313.3" y2="455.3" stroke="#2a2a2a" stroke-width="1.1"/>
<text transform="translate(199.27 405.3) rotate(-90)" x="0" y="0" font-size="6.89" text-anchor="middle" textLength="50.3" lengthAdjust="spacingAndGlyphs">Total photon flux</text>
<line x1="238.9" y1="386.4" x2="238.9" y2="391.4" stroke="#1d0fb0" stroke-width="0.8"/>
<line x1="234.9" y1="386.4" x2="242.9" y2="386.4" stroke="#1d0fb0" stroke-width="0.8"/>
<line x1="234.9" y1="391.4" x2="242.9" y2="391.4" stroke="#1d0fb0" stroke-width="0.8"/>
<line x1="230.1" y1="388.9" x2="247.7" y2="388.9" stroke="#1d0fb0" stroke-width="1"/>
<line x1="265.4" y1="383.8" x2="265.4" y2="392.6" stroke="#d5111f" stroke-width="0.8"/>
<line x1="261.4" y1="383.8" x2="269.4" y2="383.8" stroke="#d5111f" stroke-width="0.8"/>
<line x1="261.4" y1="392.6" x2="269.4" y2="392.6" stroke="#d5111f" stroke-width="0.8"/>
<line x1="256.6" y1="388.3" x2="274.2" y2="388.3" stroke="#d5111f" stroke-width="1"/>
<circle cx="239.1" cy="378.2" r="1.9" fill="#1d0fb0"/>
<circle cx="241.7" cy="381.8" r="1.9" fill="#1d0fb0"/>
<circle cx="231.7" cy="384.8" r="1.9" fill="#1d0fb0"/>
<circle cx="236.5" cy="384.2" r="1.9" fill="#1d0fb0"/>
<circle cx="241.7" cy="385.7" r="1.9" fill="#1d0fb0"/>
<circle cx="231.7" cy="388.9" r="1.9" fill="#1d0fb0"/>
<circle cx="236.5" cy="388.3" r="1.9" fill="#1d0fb0"/>
<circle cx="239.1" cy="387.7" r="1.9" fill="#1d0fb0"/>
<circle cx="241.7" cy="388.9" r="1.9" fill="#1d0fb0"/>
<circle cx="246.1" cy="388.9" r="1.9" fill="#1d0fb0"/>
<circle cx="236.5" cy="391.7" r="1.9" fill="#1d0fb0"/>
<circle cx="239.1" cy="395.3" r="1.9" fill="#1d0fb0"/>
<circle cx="236.5" cy="405" r="1.9" fill="#1d0fb0"/>
<circle cx="241.7" cy="405" r="1.9" fill="#1d0fb0"/>
<circle cx="239.1" cy="409.4" r="1.9" fill="#1d0fb0"/>
<circle cx="236.5" cy="430.1" r="1.9" fill="#1d0fb0"/>
<circle cx="241.7" cy="429.1" r="1.9" fill="#1d0fb0"/>
<rect x="263.5" y="367.9" width="3.4" height="3.4" fill="#d5111f"/>
<rect x="263.5" y="380.5" width="3.4" height="3.4" fill="#d5111f"/>
<rect x="263.5" y="384" width="3.4" height="3.4" fill="#d5111f"/>
<rect x="256.1" y="392" width="3.4" height="3.4" fill="#d5111f"/>
<rect x="260.9" y="393.2" width="3.4" height="3.4" fill="#d5111f"/>
<rect x="266.1" y="392.6" width="3.4" height="3.4" fill="#d5111f"/>
<rect x="271" y="391.2" width="3.4" height="3.4" fill="#d5111f"/>
<rect x="271" y="397.6" width="3.4" height="3.4" fill="#d5111f"/>
<rect x="266.1" y="398.6" width="3.4" height="3.4" fill="#d5111f"/>
<rect x="260.9" y="400.2" width="3.4" height="3.4" fill="#d5111f"/>
<rect x="256.1" y="407.3" width="3.4" height="3.4" fill="#d5111f"/>
<rect x="260.9" y="408.1" width="3.4" height="3.4" fill="#d5111f"/>
<rect x="266.1" y="407.3" width="3.4" height="3.4" fill="#d5111f"/>
<rect x="263.5" y="413.3" width="3.4" height="3.4" fill="#d5111f"/>
<rect x="263.5" y="422.1" width="3.4" height="3.4" fill="#d5111f"/>
<path d="M288 389.26L289.8 392.5L286.2 392.5Z" fill="#1e7d2c"/>
<path d="M294.8 388.16L296.6 391.4L293 391.4Z" fill="#1e7d2c"/>
<path d="M283.9 393.56L285.7 396.8L282.1 396.8Z" fill="#1e7d2c"/>
<path d="M291.3 394.46L293.1 397.7L289.5 397.7Z" fill="#1e7d2c"/>
<path d="M298.6 396.06L300.4 399.3L296.8 399.3Z" fill="#1e7d2c"/>
<path d="M283.9 398.06L285.7 401.3L282.1 401.3Z" fill="#1e7d2c"/>
<path d="M291.3 398.06L293.1 401.3L289.5 401.3Z" fill="#1e7d2c"/>
<path d="M283.9 410.96L285.7 414.2L282.1 414.2Z" fill="#1e7d2c"/>
<path d="M291.3 412.86L293.1 416.1L289.5 416.1Z" fill="#1e7d2c"/>
<path d="M291.3 427.46L293.1 430.7L289.5 430.7Z" fill="#1e7d2c"/>
<path d="M291.3 435.76L293.1 439L289.5 439Z" fill="#1e7d2c"/>
<path d="M291.3 451.26L293.1 454.5L289.5 454.5Z" fill="#1e7d2c"/>
<line x1="290.3" y1="396.6" x2="290.3" y2="401.4" stroke="#2a5a2a" stroke-width="0.8"/>
<line x1="286.3" y1="396.6" x2="294.3" y2="396.6" stroke="#2a5a2a" stroke-width="0.8"/>
<line x1="286.3" y1="401.4" x2="294.3" y2="401.4" stroke="#2a5a2a" stroke-width="0.8"/>
<line x1="282.3" y1="398.9" x2="298.3" y2="398.9" stroke="#3ade3a" stroke-width="1"/>
<line x1="236.5" y1="353.5" x2="290" y2="353.5" stroke="#383838" stroke-width="1"/>
<line x1="236.5" y1="352" x2="236.5" y2="355" stroke="#383838" stroke-width="0.9"/>
<line x1="290" y1="352" x2="290" y2="355" stroke="#383838" stroke-width="0.9"/>
<text x="262.6" y="351.2" font-size="6" text-anchor="middle" fill="#111" style="stroke-width:0.18px">*</text>
<text x="266.85" y="362.84" font-size="5.96" text-anchor="middle" fill="#111" textLength="26.1" lengthAdjust="spacingAndGlyphs">2.98 x 10<tspan font-size="4" dy="-2.4">7</tspan></text>
<text x="240.1" y="372.9" font-size="5.88" text-anchor="middle" fill="#111" textLength="24.2" lengthAdjust="spacingAndGlyphs">2.67 x10<tspan font-size="4" dy="-2.4">7</tspan></text>
<text x="290.6" y="382.78" font-size="6.08" text-anchor="middle" fill="#111" textLength="26.6" lengthAdjust="spacingAndGlyphs">8.20 x 10<tspan font-size="4" dy="-2.4">6</tspan></text>
<circle cx="313" cy="369.7" r="1.8" fill="#1d0fb0"/>
<text x="319.9" y="372.27" font-size="7.19" style="font-weight:normal;stroke-width:0.1px;" fill="#1a1a1a" textLength="18.54" lengthAdjust="spacingAndGlyphs">Vehicle</text>
<rect x="311.38" y="377.38" width="3.24" height="3.24" fill="#d5111f"/>
<text x="319.9" y="381.57" font-size="7.19" style="font-weight:normal;stroke-width:0.1px;" fill="#1a1a1a" textLength="24.61" lengthAdjust="spacingAndGlyphs">Paclitaxel</text>
<path d="M313 386.76L314.8 390L311.2 390Z" fill="#1e7d2c"/>
<text x="319.9" y="391.27" font-size="7.19" style="font-weight:normal;stroke-width:0.1px;" fill="#1a1a1a" textLength="26.63" lengthAdjust="spacingAndGlyphs">VERU-111</text>
<text x="262.6" y="469.96" font-size="6.32" text-anchor="middle" fill="#111" textLength="71.8" lengthAdjust="spacingAndGlyphs">AxLN, ex vivo bio-imaging</text>
<text x="356.5" y="335.5" font-size="16">I</text>
<line x1="388.3" y1="366.69" x2="388.3" y2="457.1" stroke="#2a2a2a" stroke-width="1.1"/>
<line x1="386.1" y1="366.99" x2="388.3" y2="366.99" stroke="#2a2a2a" stroke-width="0.9"/>
<line x1="386.1" y1="396.86" x2="388.3" y2="396.86" stroke="#2a2a2a" stroke-width="0.9"/>
<line x1="386.1" y1="426.73" x2="388.3" y2="426.73" stroke="#2a2a2a" stroke-width="0.9"/>
<line x1="386.1" y1="456.6" x2="388.3" y2="456.6" stroke="#2a2a2a" stroke-width="0.9"/>
<text x="386" y="369.48" font-size="6.94" text-anchor="end" fill="#111" textLength="3.45" lengthAdjust="spacingAndGlyphs">9</text>
<text x="386" y="399.35" font-size="6.94" text-anchor="end" fill="#111" textLength="3.45" lengthAdjust="spacingAndGlyphs">8</text>
<text x="386" y="429.22" font-size="6.94" text-anchor="end" fill="#111" textLength="3.45" lengthAdjust="spacingAndGlyphs">7</text>
<text x="386" y="459.09" font-size="6.94" text-anchor="end" fill="#111" textLength="3.45" lengthAdjust="spacingAndGlyphs">6</text>
<line x1="387.8" y1="456.6" x2="492.1" y2="456.6" stroke="#2a2a2a" stroke-width="1.1"/>
<text transform="translate(371.52 411.3) rotate(-90)" x="0" y="0" font-size="7.32" text-anchor="middle" textLength="52" lengthAdjust="spacingAndGlyphs">Log<tspan font-size="4.9" dy="1.9">10</tspan><tspan dy="-1.9"> photon flux</tspan></text>
<line x1="412" y1="387.2" x2="412" y2="392" stroke="#1d0fb0" stroke-width="0.8"/>
<line x1="408" y1="387.2" x2="416" y2="387.2" stroke="#1d0fb0" stroke-width="0.8"/>
<line x1="408" y1="392" x2="416" y2="392" stroke="#1d0fb0" stroke-width="0.8"/>
<line x1="403" y1="389.6" x2="421" y2="389.6" stroke="#1d0fb0" stroke-width="1"/>
<line x1="440.2" y1="390.6" x2="440.2" y2="398.8" stroke="#d5111f" stroke-width="0.8"/>
<line x1="436.2" y1="390.6" x2="444.2" y2="390.6" stroke="#d5111f" stroke-width="0.8"/>
<line x1="436.2" y1="398.8" x2="444.2" y2="398.8" stroke="#d5111f" stroke-width="0.8"/>
<line x1="431.2" y1="394.7" x2="449.2" y2="394.7" stroke="#d5111f" stroke-width="1"/>
<circle cx="411.9" cy="375.2" r="2" fill="#1d0fb0"/>
<circle cx="409.7" cy="382.8" r="2" fill="#1d0fb0"/>
<circle cx="405" cy="385.6" r="2" fill="#1d0fb0"/>
<circle cx="409.7" cy="387.3" r="2" fill="#1d0fb0"/>
<circle cx="414.4" cy="389" r="2" fill="#1d0fb0"/>
<circle cx="419.2" cy="388" r="2" fill="#1d0fb0"/>
<circle cx="405" cy="390.8" r="2" fill="#1d0fb0"/>
<circle cx="409.7" cy="391.1" r="2" fill="#1d0fb0"/>
<circle cx="414.4" cy="391.1" r="2" fill="#1d0fb0"/>
<circle cx="419.2" cy="391.1" r="2" fill="#1d0fb0"/>
<circle cx="405" cy="394.9" r="2" fill="#1d0fb0"/>
<circle cx="409.7" cy="396" r="2" fill="#1d0fb0"/>
<circle cx="414.4" cy="397.7" r="2" fill="#1d0fb0"/>
<circle cx="419.2" cy="397.7" r="2" fill="#1d0fb0"/>
<circle cx="405" cy="399.4" r="2" fill="#1d0fb0"/>
<rect x="438.4" y="369.4" width="3.6" height="3.6" fill="#d5111f"/>
<rect x="438.4" y="376.4" width="3.6" height="3.6" fill="#d5111f"/>
<rect x="445.9" y="381.4" width="3.6" height="3.6" fill="#d5111f"/>
<rect x="431" y="386.4" width="3.6" height="3.6" fill="#d5111f"/>
<rect x="438.4" y="384" width="3.6" height="3.6" fill="#d5111f"/>
<rect x="445.9" y="386.4" width="3.6" height="3.6" fill="#d5111f"/>
<rect x="431" y="392.1" width="3.6" height="3.6" fill="#d5111f"/>
<rect x="438.4" y="393.5" width="3.6" height="3.6" fill="#d5111f"/>
<rect x="445.9" y="395.5" width="3.6" height="3.6" fill="#d5111f"/>
<rect x="431" y="396.9" width="3.6" height="3.6" fill="#d5111f"/>
<rect x="438.4" y="405.5" width="3.6" height="3.6" fill="#d5111f"/>
<rect x="438.4" y="409.6" width="3.6" height="3.6" fill="#d5111f"/>
<rect x="438.4" y="435.1" width="3.6" height="3.6" fill="#d5111f"/>
<path d="M468.1 405.79L470.05 409.3L466.15 409.3Z" fill="#1e7d2c"/>
<path d="M468.1 411.29L470.05 414.8L466.15 414.8Z" fill="#1e7d2c"/>
<path d="M460.5 419.29L462.45 422.8L458.55 422.8Z" fill="#1e7d2c"/>
<path d="M468.1 418.69L470.05 422.2L466.15 422.2Z" fill="#1e7d2c"/>
<path d="M475.8 418.69L477.75 422.2L473.85 422.2Z" fill="#1e7d2c"/>
<path d="M468.1 425.89L470.05 429.4L466.15 429.4Z" fill="#1e7d2c"/>
<path d="M475.8 426.29L477.75 429.8L473.85 429.8Z" fill="#1e7d2c"/>
<path d="M460.5 429.39L462.45 432.9L458.55 432.9Z" fill="#1e7d2c"/>
<path d="M464.5 427.29L466.45 430.8L462.55 430.8Z" fill="#1e7d2c"/>
<path d="M471.2 428.39L473.15 431.9L469.25 431.9Z" fill="#1e7d2c"/>
<path d="M464.5 441.39L466.45 444.9L462.55 444.9Z" fill="#1e7d2c"/>
<path d="M472.2 439.39L474.15 442.9L470.25 442.9Z" fill="#1e7d2c"/>
<path d="M468.1 445.99L470.05 449.5L466.15 449.5Z" fill="#1e7d2c"/>
<path d="M468.1 449.49L470.05 453L466.15 453Z" fill="#1e7d2c"/>
<line x1="468.1" y1="426" x2="468.1" y2="432.6" stroke="#2a5a2a" stroke-width="0.8"/>
<line x1="464.1" y1="426" x2="472.1" y2="426" stroke="#2a5a2a" stroke-width="0.8"/>
<line x1="464.1" y1="432.6" x2="472.1" y2="432.6" stroke="#2a5a2a" stroke-width="0.8"/>
<line x1="459.1" y1="429.3" x2="477.1" y2="429.3" stroke="#3ade3a" stroke-width="1"/>
<text x="412.1" y="367.55" font-size="6.84" text-anchor="middle" fill="#111" textLength="12.1" lengthAdjust="spacingAndGlyphs">8.22</text>
<text x="439.6" y="366.95" font-size="6.84" text-anchor="middle" fill="#111" textLength="12.1" lengthAdjust="spacingAndGlyphs">8.05</text>
<text x="468.1" y="400.75" font-size="6.84" text-anchor="middle" fill="#111" textLength="12.1" lengthAdjust="spacingAndGlyphs">6.91</text>
<line x1="411.5" y1="349.7" x2="474.2" y2="349.7" stroke="#383838" stroke-width="1"/>
<line x1="411.5" y1="348.2" x2="411.5" y2="351.2" stroke="#383838" stroke-width="0.9"/>
<line x1="474.2" y1="348.2" x2="474.2" y2="351.2" stroke="#383838" stroke-width="0.9"/>
<line x1="439.2" y1="356.1" x2="474.2" y2="356.1" stroke="#383838" stroke-width="1"/>
<line x1="439.2" y1="354.6" x2="439.2" y2="357.6" stroke="#383838" stroke-width="0.9"/>
<line x1="474.2" y1="354.6" x2="474.2" y2="357.6" stroke="#383838" stroke-width="0.9"/>
<text x="439.2" y="349.15" font-size="6.1" text-anchor="middle" fill="#111" style="stroke-width:0.18px">****</text>
<text x="456.3" y="357.25" font-size="6.1" text-anchor="middle" fill="#111" style="stroke-width:0.18px">****</text>
<circle cx="482.6" cy="369.7" r="2" fill="#1d0fb0"/>
<text x="490.3" y="372.36" font-size="7.44" style="font-weight:normal;stroke-width:0.1px;" fill="#1a1a1a" textLength="19.19" lengthAdjust="spacingAndGlyphs">Vehicle</text>
<rect x="480.8" y="375.4" width="3.6" height="3.6" fill="#d5111f"/>
<text x="490.3" y="379.86" font-size="7.44" style="font-weight:normal;stroke-width:0.1px;" fill="#1a1a1a" textLength="25.46" lengthAdjust="spacingAndGlyphs">Paclitaxel</text>
<path d="M482.6 382.44L484.6 386.04L480.6 386.04Z" fill="#1e7d2c"/>
<text x="490.3" y="387.26" font-size="7.44" style="font-weight:normal;stroke-width:0.1px;" fill="#1a1a1a" textLength="27.23" lengthAdjust="spacingAndGlyphs">VERU 111</text>
<text x="442.6" y="469.88" font-size="6.64" text-anchor="middle" fill="#111" textLength="77.8" lengthAdjust="spacingAndGlyphs">Lungs, ex vivo bio-imaging</text>
<text x="0.4" y="513.5" font-size="16">J</text>
<line x1="42.9" y1="546.18" x2="42.9" y2="630.5" stroke="#2a2a2a" stroke-width="1.1"/>
<line x1="40.7" y1="546.48" x2="42.9" y2="546.48" stroke="#2a2a2a" stroke-width="0.9"/>
<line x1="40.7" y1="567.36" x2="42.9" y2="567.36" stroke="#2a2a2a" stroke-width="0.9"/>
<line x1="40.7" y1="588.24" x2="42.9" y2="588.24" stroke="#2a2a2a" stroke-width="0.9"/>
<line x1="40.7" y1="609.12" x2="42.9" y2="609.12" stroke="#2a2a2a" stroke-width="0.9"/>
<line x1="40.7" y1="630" x2="42.9" y2="630" stroke="#2a2a2a" stroke-width="0.9"/>
<line x1="41.7" y1="556.92" x2="42.9" y2="556.92" stroke="#2a2a2a" stroke-width="0.8"/>
<line x1="41.7" y1="577.8" x2="42.9" y2="577.8" stroke="#2a2a2a" stroke-width="0.8"/>
<line x1="41.7" y1="598.68" x2="42.9" y2="598.68" stroke="#2a2a2a" stroke-width="0.8"/>
<line x1="41.7" y1="619.56" x2="42.9" y2="619.56" stroke="#2a2a2a" stroke-width="0.8"/>
<text x="41.2" y="549.01" font-size="7.06" text-anchor="end" fill="#111" textLength="3.5" lengthAdjust="spacingAndGlyphs">8</text>
<text x="41.2" y="569.89" font-size="7.06" text-anchor="end" fill="#111" textLength="3.5" lengthAdjust="spacingAndGlyphs">6</text>
<text x="41.2" y="590.77" font-size="7.06" text-anchor="end" fill="#111" textLength="3.5" lengthAdjust="spacingAndGlyphs">4</text>
<text x="41.2" y="611.65" font-size="7.06" text-anchor="end" fill="#111" textLength="3.5" lengthAdjust="spacingAndGlyphs">2</text>
<text x="41.2" y="632.53" font-size="7.06" text-anchor="end" fill="#111" textLength="3.5" lengthAdjust="spacingAndGlyphs">0</text>
<line x1="42.4" y1="630" x2="143.1" y2="630" stroke="#2a2a2a" stroke-width="1.1"/>
<text transform="translate(27.16 587.2) rotate(-90)" x="0" y="0" font-size="7.7" text-anchor="middle" textLength="54.7" lengthAdjust="spacingAndGlyphs">Log<tspan font-size="4.9" dy="1.9">10</tspan><tspan dy="-1.9"> photon flux</tspan></text>
<line x1="65.8" y1="576.2" x2="65.8" y2="582.4" stroke="#1d0fb0" stroke-width="0.8"/>
<line x1="61.6" y1="576.2" x2="70" y2="576.2" stroke="#1d0fb0" stroke-width="0.8"/>
<line x1="61.6" y1="582.4" x2="70" y2="582.4" stroke="#1d0fb0" stroke-width="0.8"/>
<line x1="57" y1="579.4" x2="74.6" y2="579.4" stroke="#1d0fb0" stroke-width="1"/>
<line x1="93.3" y1="564.5" x2="93.3" y2="574" stroke="#d5111f" stroke-width="0.8"/>
<line x1="89.1" y1="564.5" x2="97.5" y2="564.5" stroke="#d5111f" stroke-width="0.8"/>
<line x1="89.1" y1="574" x2="97.5" y2="574" stroke="#d5111f" stroke-width="0.8"/>
<line x1="84.2" y1="569.2" x2="102.4" y2="569.2" stroke="#d5111f" stroke-width="1"/>
<circle cx="58.9" cy="573.8" r="2.05" fill="#1d0fb0"/>
<circle cx="65.8" cy="572.5" r="2.05" fill="#1d0fb0"/>
<circle cx="72.8" cy="572.5" r="2.05" fill="#1d0fb0"/>
<circle cx="58.9" cy="587.2" r="2.05" fill="#1d0fb0"/>
<circle cx="65.8" cy="583.6" r="2.05" fill="#1d0fb0"/>
<circle cx="72.8" cy="586.2" r="2.05" fill="#1d0fb0"/>
<rect x="91.4" y="551.2" width="3.6" height="3.6" fill="#d5111f"/>
<rect x="87.4" y="559.4" width="3.6" height="3.6" fill="#d5111f"/>
<rect x="95.7" y="556.2" width="3.6" height="3.6" fill="#d5111f"/>
<rect x="87.4" y="570.5" width="3.6" height="3.6" fill="#d5111f"/>
<rect x="91.4" y="570.2" width="3.6" height="3.6" fill="#d5111f"/>
<rect x="95.7" y="570.2" width="3.6" height="3.6" fill="#d5111f"/>
<rect x="91.4" y="578.5" width="3.6" height="3.6" fill="#d5111f"/>
<rect x="91.4" y="585.4" width="3.6" height="3.6" fill="#d5111f"/>
<rect x="112.2" y="618.8" width="16.7" height="2.9" fill="#2ec42e" rx="1.4"/>
<text x="65.7" y="566.21" font-size="7.01" text-anchor="middle" fill="#111" textLength="12.4" lengthAdjust="spacingAndGlyphs">4.84</text>
<text x="93.5" y="548.81" font-size="7.01" text-anchor="middle" fill="#111" textLength="12.4" lengthAdjust="spacingAndGlyphs">5.83</text>
<text x="121.1" y="606.53" font-size="5.94" text-anchor="middle" fill="#111" textLength="23.85" lengthAdjust="spacingAndGlyphs">No signal</text>
<text x="121.1" y="613.03" font-size="5.94" text-anchor="middle" fill="#111" textLength="21.79" lengthAdjust="spacingAndGlyphs">detected</text>
<line x1="68.2" y1="529.3" x2="127.6" y2="529.3" stroke="#383838" stroke-width="1"/>
<line x1="68.2" y1="527.8" x2="68.2" y2="530.8" stroke="#383838" stroke-width="0.9"/>
<line x1="127.6" y1="527.8" x2="127.6" y2="530.8" stroke="#383838" stroke-width="0.9"/>
<line x1="56.1" y1="538.2" x2="128.5" y2="538.2" stroke="#383838" stroke-width="1"/>
<line x1="56.1" y1="536.7" x2="56.1" y2="539.7" stroke="#383838" stroke-width="0.9"/>
<line x1="128.5" y1="536.7" x2="128.5" y2="539.7" stroke="#383838" stroke-width="0.9"/>
<text x="97.9" y="528.47" font-size="6.74" text-anchor="middle" fill="#111" style="stroke-width:0.18px">****</text>
<text x="73.8" y="537.4" font-size="6" text-anchor="middle" fill="#111" style="stroke-width:0.18px">*</text>
<text x="111.2" y="537.68" font-size="6.55" text-anchor="middle" fill="#111" style="stroke-width:0.18px">****</text>
<circle cx="92.9" cy="538.2" r="1.3" fill="#fff" stroke="#333" stroke-width="0.6"/>
<circle cx="136.4" cy="563.8" r="2" fill="#1d0fb0"/>
<text x="144.2" y="566.55" font-size="7.69" style="font-weight:normal;stroke-width:0.1px;" fill="#1a1a1a" textLength="19.83" lengthAdjust="spacingAndGlyphs">Vehicle</text>
<rect x="134.6" y="570.1" width="3.6" height="3.6" fill="#d5111f"/>
<text x="144.2" y="574.65" font-size="7.69" style="font-weight:normal;stroke-width:0.1px;" fill="#1a1a1a" textLength="26.32" lengthAdjust="spacingAndGlyphs">Paclitaxel</text>
<path d="M136.4 577.54L138.4 581.14L134.4 581.14Z" fill="#2a9a2a"/>
<text x="144.2" y="582.45" font-size="7.69" style="font-weight:normal;stroke-width:0.1px;" fill="#1a1a1a" textLength="28.14" lengthAdjust="spacingAndGlyphs">VERU 111</text>
<text x="94.05" y="644.28" font-size="6.92" text-anchor="middle" fill="#111" textLength="76.9" lengthAdjust="spacingAndGlyphs">Liver, <tspan font-style="italic">ex vivo</tspan> bio-imaging</text>
<text x="189.2" y="513.5" font-size="16">K</text>
<line x1="236.2" y1="534.7" x2="236.2" y2="630.7" stroke="#2a2a2a" stroke-width="1.1"/>
<line x1="234" y1="535" x2="236.2" y2="535" stroke="#2a2a2a" stroke-width="0.9"/>
<line x1="234" y1="554.04" x2="236.2" y2="554.04" stroke="#2a2a2a" stroke-width="0.9"/>
<line x1="234" y1="573.08" x2="236.2" y2="573.08" stroke="#2a2a2a" stroke-width="0.9"/>
<line x1="234" y1="592.12" x2="236.2" y2="592.12" stroke="#2a2a2a" stroke-width="0.9"/>
<line x1="234" y1="611.16" x2="236.2" y2="611.16" stroke="#2a2a2a" stroke-width="0.9"/>
<line x1="234" y1="630.2" x2="236.2" y2="630.2" stroke="#2a2a2a" stroke-width="0.9"/>
<text x="234.5" y="537.53" font-size="7.06" text-anchor="end" fill="#111" textLength="3.5" lengthAdjust="spacingAndGlyphs">9</text>
<text x="234.5" y="556.57" font-size="7.06" text-anchor="end" fill="#111" textLength="3.5" lengthAdjust="spacingAndGlyphs">8</text>
<text x="234.5" y="575.61" font-size="7.06" text-anchor="end" fill="#111" textLength="3.5" lengthAdjust="spacingAndGlyphs">7</text>
<text x="234.5" y="594.65" font-size="7.06" text-anchor="end" fill="#111" textLength="3.5" lengthAdjust="spacingAndGlyphs">6</text>
<text x="234.5" y="613.69" font-size="7.06" text-anchor="end" fill="#111" textLength="3.5" lengthAdjust="spacingAndGlyphs">5</text>
<text x="234.5" y="632.73" font-size="7.06" text-anchor="end" fill="#111" textLength="3.5" lengthAdjust="spacingAndGlyphs">4</text>
<line x1="235.7" y1="630.2" x2="341.2" y2="630.2" stroke="#2a2a2a" stroke-width="1.1"/>
<text transform="translate(224.29 580.8) rotate(-90)" x="0" y="0" font-size="7.79" text-anchor="middle" textLength="55.3" lengthAdjust="spacingAndGlyphs">Log<tspan font-size="4.9" dy="1.9">10</tspan><tspan dy="-1.9"> photon flux</tspan></text>
<line x1="260.5" y1="587.9" x2="260.5" y2="597.6" stroke="#1d0fb0" stroke-width="0.8"/>
<line x1="256.9" y1="587.9" x2="264.1" y2="587.9" stroke="#1d0fb0" stroke-width="0.8"/>
<line x1="256.9" y1="597.6" x2="264.1" y2="597.6" stroke="#1d0fb0" stroke-width="0.8"/>
<line x1="251.2" y1="593.1" x2="269.8" y2="593.1" stroke="#1d0fb0" stroke-width="1"/>
<line x1="288.9" y1="590.5" x2="288.9" y2="601.5" stroke="#d5111f" stroke-width="0.8"/>
<line x1="284.7" y1="590.5" x2="293.1" y2="590.5" stroke="#d5111f" stroke-width="0.8"/>
<line x1="284.7" y1="601.5" x2="293.1" y2="601.5" stroke="#d5111f" stroke-width="0.8"/>
<line x1="279.9" y1="596.1" x2="297.9" y2="596.1" stroke="#d5111f" stroke-width="1"/>
<circle cx="260.4" cy="559" r="2.05" fill="#1d0fb0"/>
<circle cx="256.3" cy="581.8" r="2.05" fill="#1d0fb0"/>
<circle cx="264.6" cy="583.5" r="2.05" fill="#1d0fb0"/>
<circle cx="256.3" cy="586.2" r="2.05" fill="#1d0fb0"/>
<circle cx="260.3" cy="591.6" r="2.05" fill="#1d0fb0"/>
<circle cx="252.9" cy="601.3" r="2.05" fill="#1d0fb0"/>
<circle cx="258" cy="604.7" r="2.05" fill="#1d0fb0"/>
<circle cx="252.9" cy="607.8" r="2.05" fill="#1d0fb0"/>
<circle cx="262.9" cy="606.8" r="2.05" fill="#1d0fb0"/>
<circle cx="267.8" cy="604.8" r="2.05" fill="#1d0fb0"/>
<rect x="287.4" y="546.4" width="3.6" height="3.6" fill="#d5111f"/>
<rect x="283.1" y="587.2" width="3.6" height="3.6" fill="#d5111f"/>
<rect x="291.6" y="585.4" width="3.6" height="3.6" fill="#d5111f"/>
<rect x="279.4" y="595.2" width="3.6" height="3.6" fill="#d5111f"/>
<rect x="287.4" y="593.9" width="3.6" height="3.6" fill="#d5111f"/>
<rect x="295.4" y="592.4" width="3.6" height="3.6" fill="#d5111f"/>
<rect x="287.4" y="597.6" width="3.6" height="3.6" fill="#d5111f"/>
<rect x="279.4" y="600.8" width="3.6" height="3.6" fill="#d5111f"/>
<rect x="295.4" y="598.9" width="3.6" height="3.6" fill="#d5111f"/>
<rect x="291.6" y="605" width="3.6" height="3.6" fill="#d5111f"/>
<rect x="283.1" y="608.2" width="3.6" height="3.6" fill="#d5111f"/>
<rect x="287.4" y="620.3" width="3.6" height="3.6" fill="#d5111f"/>
<path d="M321.6 591.19L323.55 594.7L319.65 594.7Z" fill="#1e7d2c"/>
<path d="M313.4 594.99L315.35 598.5L311.45 598.5Z" fill="#1e7d2c"/>
<path d="M313.4 599.59L315.35 603.1L311.45 603.1Z" fill="#1e7d2c"/>
<path d="M309.8 603.69L311.75 607.2L307.85 607.2Z" fill="#1e7d2c"/>
<path d="M313.2 605.59L315.15 609.1L311.25 609.1Z" fill="#1e7d2c"/>
<path d="M317 606.09L318.95 609.6L315.05 609.6Z" fill="#1e7d2c"/>
<path d="M318.9 604.19L320.85 607.7L316.95 607.7Z" fill="#1e7d2c"/>
<path d="M320.9 603.69L322.85 607.2L318.95 607.2Z" fill="#1e7d2c"/>
<path d="M325.4 606.59L327.35 610.1L323.45 610.1Z" fill="#1e7d2c"/>
<path d="M309.8 609.49L311.75 613L307.85 613Z" fill="#1e7d2c"/>
<path d="M321.6 609.89L323.55 613.4L319.65 613.4Z" fill="#1e7d2c"/>
<line x1="317.5" y1="603.6" x2="317.5" y2="607.8" stroke="#2a5a2a" stroke-width="0.8"/>
<line x1="313.3" y1="603.6" x2="321.7" y2="603.6" stroke="#2a5a2a" stroke-width="0.8"/>
<line x1="313.3" y1="607.8" x2="321.7" y2="607.8" stroke="#2a5a2a" stroke-width="0.8"/>
<line x1="308.3" y1="605.7" x2="326.7" y2="605.7" stroke="#3ade3a" stroke-width="1"/>
<text x="260.7" y="552.61" font-size="7.01" text-anchor="middle" fill="#111" textLength="12.4" lengthAdjust="spacingAndGlyphs">5.96</text>
<text x="289.2" y="564.31" font-size="7.01" text-anchor="middle" fill="#111" textLength="12.4" lengthAdjust="spacingAndGlyphs">5.78</text>
<text x="318.9" y="586.01" font-size="7.01" text-anchor="middle" fill="#111" textLength="12.4" lengthAdjust="spacingAndGlyphs">5.31</text>
<line x1="259.5" y1="531.7" x2="321.3" y2="531.7" stroke="#383838" stroke-width="1"/>
<line x1="259.5" y1="530.2" x2="259.5" y2="533.2" stroke="#383838" stroke-width="0.9"/>
<line x1="321.3" y1="530.2" x2="321.3" y2="533.2" stroke="#383838" stroke-width="0.9"/>
<text x="289.2" y="530.6" font-size="6" text-anchor="middle" fill="#111" style="stroke-width:0.18px">*</text>
<circle cx="331.7" cy="550.6" r="2" fill="#1d0fb0"/>
<text x="339.4" y="553.55" font-size="8.25" style="font-weight:normal;stroke-width:0.1px;" fill="#1a1a1a" textLength="21.28" lengthAdjust="spacingAndGlyphs">Vehicle</text>
<rect x="329.9" y="556.9" width="3.6" height="3.6" fill="#d5111f"/>
<text x="339.4" y="561.65" font-size="8.25" style="font-weight:normal;stroke-width:0.1px;" fill="#1a1a1a" textLength="28.25" lengthAdjust="spacingAndGlyphs">Paclitaxel</text>
<path d="M331.7 565.84L333.7 569.44L329.7 569.44Z" fill="#1e7d2c"/>
<text x="339.4" y="570.95" font-size="8.25" style="font-weight:normal;stroke-width:0.1px;" fill="#1a1a1a" textLength="30.2" lengthAdjust="spacingAndGlyphs">VERU 111</text>
<text x="293.55" y="644.4" font-size="7.25" text-anchor="middle" fill="#111" textLength="81.7" lengthAdjust="spacingAndGlyphs">Bone, <tspan font-style="italic">ex vivo</tspan> bio-imaging</text>
</svg>
</body></html>
